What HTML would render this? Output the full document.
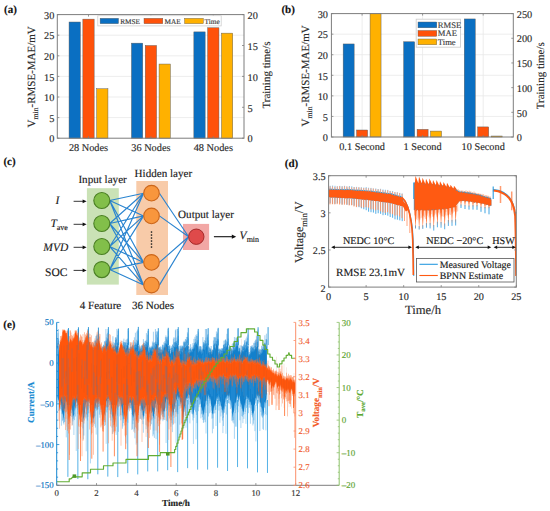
<!DOCTYPE html>
<html><head><meta charset="utf-8"><style>
html,body{margin:0;padding:0;background:#fff;width:550px;height:511px;overflow:hidden}
svg{display:block;font-family:"Liberation Serif",serif;text-rendering:geometricPrecision}
text{stroke-width:0.15px}
</style></head><body>
<svg width="550" height="511" viewBox="0 0 550 511">
<rect width="550" height="511" fill="#fff"/>
<text x="4.1" y="12.6" font-size="11" font-weight="bold" fill="#111" stroke="#111">(a)</text>
<line x1="57.3" y1="117.6" x2="244" y2="117.6" stroke="#e9e9e9" stroke-width="0.8"/>
<line x1="57.3" y1="97" x2="244" y2="97" stroke="#e9e9e9" stroke-width="0.8"/>
<line x1="57.3" y1="76.4" x2="244" y2="76.4" stroke="#e9e9e9" stroke-width="0.8"/>
<line x1="57.3" y1="55.8" x2="244" y2="55.8" stroke="#e9e9e9" stroke-width="0.8"/>
<line x1="57.3" y1="35.2" x2="244" y2="35.2" stroke="#e9e9e9" stroke-width="0.8"/>
<rect x="69.05" y="22.02" width="11.3" height="116.18" fill="#0a6fc2" stroke="#5a5a5a" stroke-width="0.45"/>
<rect x="82.85" y="19.13" width="11.3" height="119.07" fill="#ff520a" stroke="#5a5a5a" stroke-width="0.45"/>
<rect x="96.65" y="88.76" width="11.3" height="49.44" fill="#ffb100" stroke="#5a5a5a" stroke-width="0.45"/>
<rect x="131.45" y="43.15" width="11.3" height="95.05" fill="#0a6fc2" stroke="#5a5a5a" stroke-width="0.45"/>
<rect x="145.25" y="45.5" width="11.3" height="92.7" fill="#ff520a" stroke="#5a5a5a" stroke-width="0.45"/>
<rect x="159.05" y="64.04" width="11.3" height="74.16" fill="#ffb100" stroke="#5a5a5a" stroke-width="0.45"/>
<rect x="193.85" y="31.9" width="11.3" height="106.3" fill="#0a6fc2" stroke="#5a5a5a" stroke-width="0.45"/>
<rect x="207.65" y="27.78" width="11.3" height="110.42" fill="#ff520a" stroke="#5a5a5a" stroke-width="0.45"/>
<rect x="221.45" y="33.14" width="11.3" height="105.06" fill="#ffb100" stroke="#5a5a5a" stroke-width="0.45"/>
<rect x="57.3" y="14.6" width="186.7" height="123.6" fill="none" stroke="#7d7d7d" stroke-width="1"/>
<line x1="57.3" y1="138.2" x2="59.3" y2="138.2" stroke="#7d7d7d" stroke-width="0.8"/>
<text x="54.3" y="142.4" font-size="10.3" text-anchor="end" fill="#2b2b2b" stroke="#2b2b2b">0</text>
<line x1="57.3" y1="117.6" x2="59.3" y2="117.6" stroke="#7d7d7d" stroke-width="0.8"/>
<text x="54.3" y="121.8" font-size="10.3" text-anchor="end" fill="#2b2b2b" stroke="#2b2b2b">5</text>
<line x1="57.3" y1="97" x2="59.3" y2="97" stroke="#7d7d7d" stroke-width="0.8"/>
<text x="54.3" y="101.2" font-size="10.3" text-anchor="end" fill="#2b2b2b" stroke="#2b2b2b">10</text>
<line x1="57.3" y1="76.4" x2="59.3" y2="76.4" stroke="#7d7d7d" stroke-width="0.8"/>
<text x="54.3" y="80.6" font-size="10.3" text-anchor="end" fill="#2b2b2b" stroke="#2b2b2b">15</text>
<line x1="57.3" y1="55.8" x2="59.3" y2="55.8" stroke="#7d7d7d" stroke-width="0.8"/>
<text x="54.3" y="60" font-size="10.3" text-anchor="end" fill="#2b2b2b" stroke="#2b2b2b">20</text>
<line x1="57.3" y1="35.2" x2="59.3" y2="35.2" stroke="#7d7d7d" stroke-width="0.8"/>
<text x="54.3" y="39.4" font-size="10.3" text-anchor="end" fill="#2b2b2b" stroke="#2b2b2b">25</text>
<line x1="57.3" y1="14.6" x2="59.3" y2="14.6" stroke="#7d7d7d" stroke-width="0.8"/>
<text x="54.3" y="18.8" font-size="10.3" text-anchor="end" fill="#2b2b2b" stroke="#2b2b2b">30</text>
<line x1="242" y1="138.2" x2="244" y2="138.2" stroke="#7d7d7d" stroke-width="0.8"/>
<text x="247.6" y="142.4" font-size="10.3" fill="#2b2b2b" stroke="#2b2b2b">0</text>
<line x1="242" y1="107.3" x2="244" y2="107.3" stroke="#7d7d7d" stroke-width="0.8"/>
<text x="247.6" y="111.5" font-size="10.3" fill="#2b2b2b" stroke="#2b2b2b">5</text>
<line x1="242" y1="76.4" x2="244" y2="76.4" stroke="#7d7d7d" stroke-width="0.8"/>
<text x="247.6" y="80.6" font-size="10.3" fill="#2b2b2b" stroke="#2b2b2b">10</text>
<line x1="242" y1="45.5" x2="244" y2="45.5" stroke="#7d7d7d" stroke-width="0.8"/>
<text x="247.6" y="49.7" font-size="10.3" fill="#2b2b2b" stroke="#2b2b2b">15</text>
<line x1="242" y1="14.6" x2="244" y2="14.6" stroke="#7d7d7d" stroke-width="0.8"/>
<text x="247.6" y="18.8" font-size="10.3" fill="#2b2b2b" stroke="#2b2b2b">20</text>
<line x1="88.5" y1="138.2" x2="88.5" y2="136.2" stroke="#7d7d7d" stroke-width="0.8"/>
<line x1="88.5" y1="14.6" x2="88.5" y2="16.6" stroke="#7d7d7d" stroke-width="0.8"/>
<text x="88.5" y="150.8" font-size="10.3" text-anchor="middle" fill="#2b2b2b" stroke="#2b2b2b">28 Nodes</text>
<line x1="150.9" y1="138.2" x2="150.9" y2="136.2" stroke="#7d7d7d" stroke-width="0.8"/>
<line x1="150.9" y1="14.6" x2="150.9" y2="16.6" stroke="#7d7d7d" stroke-width="0.8"/>
<text x="150.9" y="150.8" font-size="10.3" text-anchor="middle" fill="#2b2b2b" stroke="#2b2b2b">36 Nodes</text>
<line x1="213.3" y1="138.2" x2="213.3" y2="136.2" stroke="#7d7d7d" stroke-width="0.8"/>
<line x1="213.3" y1="14.6" x2="213.3" y2="16.6" stroke="#7d7d7d" stroke-width="0.8"/>
<text x="213.3" y="150.8" font-size="10.3" text-anchor="middle" fill="#2b2b2b" stroke="#2b2b2b">48 Nodes</text>
<text transform="translate(34.8 76.8) rotate(-90)" font-size="11" text-anchor="middle" fill="#2b2b2b" stroke="#2b2b2b">V<tspan font-size="7.7" dy="3">min</tspan><tspan dy="-3">-RMSE-MAE/mV</tspan></text>
<text transform="translate(270.4 75) rotate(-90)" font-size="11" text-anchor="middle" fill="#2b2b2b" stroke="#2b2b2b">Training time/s</text>
<rect x="97.8" y="15.7" width="123.4" height="10.2" fill="#fff" stroke="#cfcfcf" stroke-width="0.8"/>
<rect x="100.1" y="18.3" width="18.4" height="5.4" fill="#0a6fc2" stroke="#5a5a5a" stroke-width="0.4"/>
<text x="120.2" y="23.5" font-size="7.3" fill="#3a3a3a" stroke="#3a3a3a">RMSE</text>
<rect x="144" y="18.3" width="18.8" height="5.4" fill="#ff520a" stroke="#5a5a5a" stroke-width="0.4"/>
<text x="164.5" y="23.5" font-size="7.3" fill="#3a3a3a" stroke="#3a3a3a">MAE</text>
<rect x="184.5" y="18.3" width="18.9" height="5.4" fill="#ffb100" stroke="#5a5a5a" stroke-width="0.4"/>
<text x="204.6" y="23.5" font-size="7.3" fill="#3a3a3a" stroke="#3a3a3a">Time</text>
<text x="281.4" y="13.2" font-size="11" font-weight="bold" fill="#111" stroke="#111">(b)</text>
<line x1="331.4" y1="116.43" x2="513.3" y2="116.43" stroke="#e9e9e9" stroke-width="0.8"/>
<line x1="331.4" y1="95.87" x2="513.3" y2="95.87" stroke="#e9e9e9" stroke-width="0.8"/>
<line x1="331.4" y1="75.3" x2="513.3" y2="75.3" stroke="#e9e9e9" stroke-width="0.8"/>
<line x1="331.4" y1="54.73" x2="513.3" y2="54.73" stroke="#e9e9e9" stroke-width="0.8"/>
<line x1="331.4" y1="34.17" x2="513.3" y2="34.17" stroke="#e9e9e9" stroke-width="0.8"/>
<line x1="362.1" y1="13.6" x2="362.1" y2="137" stroke="#e9e9e9" stroke-width="0.8"/>
<line x1="422.6" y1="13.6" x2="422.6" y2="137" stroke="#e9e9e9" stroke-width="0.8"/>
<line x1="483.2" y1="13.6" x2="483.2" y2="137" stroke="#e9e9e9" stroke-width="0.8"/>
<rect x="343.15" y="43.96" width="11" height="93.04" fill="#0a6fc2" stroke="#5a5a5a" stroke-width="0.45"/>
<rect x="356.6" y="130.01" width="11" height="6.99" fill="#ff520a" stroke="#5a5a5a" stroke-width="0.45"/>
<rect x="370.05" y="13.6" width="11" height="123.4" fill="#ffb100" stroke="#5a5a5a" stroke-width="0.45"/>
<rect x="403.65" y="41.78" width="11" height="95.22" fill="#0a6fc2" stroke="#5a5a5a" stroke-width="0.45"/>
<rect x="417.1" y="129.39" width="11" height="7.61" fill="#ff520a" stroke="#5a5a5a" stroke-width="0.45"/>
<rect x="430.55" y="131.08" width="11" height="5.92" fill="#ffb100" stroke="#5a5a5a" stroke-width="0.45"/>
<rect x="464.25" y="18.95" width="11" height="118.05" fill="#0a6fc2" stroke="#5a5a5a" stroke-width="0.45"/>
<rect x="477.7" y="126.92" width="11" height="10.08" fill="#ff520a" stroke="#5a5a5a" stroke-width="0.45"/>
<rect x="491.15" y="136.01" width="11" height="0.99" fill="#ffb100" stroke="#5a5a5a" stroke-width="0.45"/>
<rect x="331.4" y="13.6" width="181.9" height="123.4" fill="none" stroke="#7d7d7d" stroke-width="1"/>
<line x1="331.4" y1="137" x2="333.4" y2="137" stroke="#7d7d7d" stroke-width="0.8"/>
<text x="328" y="141.2" font-size="10.3" text-anchor="end" fill="#2b2b2b" stroke="#2b2b2b">0</text>
<line x1="331.4" y1="116.43" x2="333.4" y2="116.43" stroke="#7d7d7d" stroke-width="0.8"/>
<text x="328" y="120.63" font-size="10.3" text-anchor="end" fill="#2b2b2b" stroke="#2b2b2b">5</text>
<line x1="331.4" y1="95.87" x2="333.4" y2="95.87" stroke="#7d7d7d" stroke-width="0.8"/>
<text x="328" y="100.07" font-size="10.3" text-anchor="end" fill="#2b2b2b" stroke="#2b2b2b">10</text>
<line x1="331.4" y1="75.3" x2="333.4" y2="75.3" stroke="#7d7d7d" stroke-width="0.8"/>
<text x="328" y="79.5" font-size="10.3" text-anchor="end" fill="#2b2b2b" stroke="#2b2b2b">15</text>
<line x1="331.4" y1="54.73" x2="333.4" y2="54.73" stroke="#7d7d7d" stroke-width="0.8"/>
<text x="328" y="58.93" font-size="10.3" text-anchor="end" fill="#2b2b2b" stroke="#2b2b2b">20</text>
<line x1="331.4" y1="34.17" x2="333.4" y2="34.17" stroke="#7d7d7d" stroke-width="0.8"/>
<text x="328" y="38.37" font-size="10.3" text-anchor="end" fill="#2b2b2b" stroke="#2b2b2b">25</text>
<line x1="331.4" y1="13.6" x2="333.4" y2="13.6" stroke="#7d7d7d" stroke-width="0.8"/>
<text x="328" y="17.8" font-size="10.3" text-anchor="end" fill="#2b2b2b" stroke="#2b2b2b">30</text>
<line x1="511.3" y1="137" x2="513.3" y2="137" stroke="#7d7d7d" stroke-width="0.8"/>
<text x="516.8" y="141.2" font-size="10.3" fill="#2b2b2b" stroke="#2b2b2b">0</text>
<line x1="511.3" y1="112.32" x2="513.3" y2="112.32" stroke="#7d7d7d" stroke-width="0.8"/>
<text x="516.8" y="116.52" font-size="10.3" fill="#2b2b2b" stroke="#2b2b2b">50</text>
<line x1="511.3" y1="87.64" x2="513.3" y2="87.64" stroke="#7d7d7d" stroke-width="0.8"/>
<text x="516.8" y="91.84" font-size="10.3" fill="#2b2b2b" stroke="#2b2b2b">100</text>
<line x1="511.3" y1="62.96" x2="513.3" y2="62.96" stroke="#7d7d7d" stroke-width="0.8"/>
<text x="516.8" y="67.16" font-size="10.3" fill="#2b2b2b" stroke="#2b2b2b">150</text>
<line x1="511.3" y1="38.28" x2="513.3" y2="38.28" stroke="#7d7d7d" stroke-width="0.8"/>
<text x="516.8" y="42.48" font-size="10.3" fill="#2b2b2b" stroke="#2b2b2b">200</text>
<line x1="511.3" y1="13.6" x2="513.3" y2="13.6" stroke="#7d7d7d" stroke-width="0.8"/>
<text x="516.8" y="17.8" font-size="10.3" fill="#2b2b2b" stroke="#2b2b2b">250</text>
<line x1="362.1" y1="137" x2="362.1" y2="135" stroke="#7d7d7d" stroke-width="0.8"/>
<line x1="362.1" y1="13.6" x2="362.1" y2="15.6" stroke="#7d7d7d" stroke-width="0.8"/>
<text x="362.1" y="149.9" font-size="10.3" text-anchor="middle" fill="#2b2b2b" stroke="#2b2b2b">0.1 Second</text>
<line x1="422.6" y1="137" x2="422.6" y2="135" stroke="#7d7d7d" stroke-width="0.8"/>
<line x1="422.6" y1="13.6" x2="422.6" y2="15.6" stroke="#7d7d7d" stroke-width="0.8"/>
<text x="422.6" y="149.9" font-size="10.3" text-anchor="middle" fill="#2b2b2b" stroke="#2b2b2b">1 Second</text>
<line x1="483.2" y1="137" x2="483.2" y2="135" stroke="#7d7d7d" stroke-width="0.8"/>
<line x1="483.2" y1="13.6" x2="483.2" y2="15.6" stroke="#7d7d7d" stroke-width="0.8"/>
<text x="483.2" y="149.9" font-size="10.3" text-anchor="middle" fill="#2b2b2b" stroke="#2b2b2b">10 Second</text>
<text transform="translate(309.2 75.8) rotate(-90)" font-size="11" text-anchor="middle" fill="#2b2b2b" stroke="#2b2b2b">V<tspan font-size="7.7" dy="3">min</tspan><tspan dy="-3">-RMSE-MAE/mV</tspan></text>
<text transform="translate(544 75.8) rotate(-90)" font-size="11" text-anchor="middle" fill="#2b2b2b" stroke="#2b2b2b">Training time/s</text>
<rect x="416.2" y="19.2" width="44.3" height="28" fill="#fff" stroke="#cfcfcf" stroke-width="0.9"/>
<rect x="418" y="22" width="18.8" height="5.8" fill="#0a6fc2" stroke="#5a5a5a" stroke-width="0.4"/>
<text x="437.8" y="27.6" font-size="8.6" fill="#3a3a3a" stroke="#3a3a3a">RMSE</text>
<rect x="418" y="30.5" width="18.8" height="5.8" fill="#ff520a" stroke="#5a5a5a" stroke-width="0.4"/>
<text x="437.8" y="36.1" font-size="8.6" fill="#3a3a3a" stroke="#3a3a3a">MAE</text>
<rect x="418" y="39" width="18.8" height="5.8" fill="#ffb100" stroke="#5a5a5a" stroke-width="0.4"/>
<text x="437.8" y="44.6" font-size="8.6" fill="#3a3a3a" stroke="#3a3a3a">Time</text>
<text x="3.4" y="164.5" font-size="11" font-weight="bold" fill="#111" stroke="#111">(c)</text>
<rect x="86.9" y="188.2" width="31.9" height="96.4" fill="#cae2b6"/>
<rect x="136.3" y="181" width="31.7" height="114" fill="#f8cba9"/>
<rect x="183" y="223.9" width="26.1" height="26.1" fill="#f2a7a5"/>
<path d="M109.7 200.5L143.6 193.2M109.7 200.5L143.6 215.9M109.7 200.5L143.6 262.4M109.7 200.5L143.6 285.1M109.7 223.5L143.6 193.2M109.7 223.5L143.6 215.9M109.7 223.5L143.6 262.4M109.7 223.5L143.6 285.1M109.7 246.5L143.6 193.2M109.7 246.5L143.6 215.9M109.7 246.5L143.6 262.4M109.7 246.5L143.6 285.1M109.7 269.6L143.6 193.2M109.7 269.6L143.6 215.9M109.7 269.6L143.6 262.4M109.7 269.6L143.6 285.1M159.4 193.2L188.6 236.7M159.4 215.9L188.6 236.7M159.4 262.4L188.6 236.7M159.4 285.1L188.6 236.7" stroke="#2a84d0" stroke-width="1.15" fill="none"/>
<circle cx="101.8" cy="200.5" r="8" fill="#82bf4a" stroke="#4a7f24" stroke-width="1.1"/>
<circle cx="101.8" cy="223.5" r="8" fill="#82bf4a" stroke="#4a7f24" stroke-width="1.1"/>
<circle cx="101.8" cy="246.5" r="8" fill="#82bf4a" stroke="#4a7f24" stroke-width="1.1"/>
<circle cx="101.8" cy="269.6" r="8" fill="#82bf4a" stroke="#4a7f24" stroke-width="1.1"/>
<circle cx="151.5" cy="193.2" r="7.8" fill="#f8963d" stroke="#cc661a" stroke-width="1.1"/>
<circle cx="151.5" cy="215.9" r="7.8" fill="#f8963d" stroke="#cc661a" stroke-width="1.1"/>
<circle cx="151.5" cy="262.4" r="7.8" fill="#f8963d" stroke="#cc661a" stroke-width="1.1"/>
<circle cx="151.5" cy="285.1" r="7.8" fill="#f8963d" stroke="#cc661a" stroke-width="1.1"/>
<circle cx="196.3" cy="236.7" r="7.7" fill="#df4a4a" stroke="#9c2323" stroke-width="0.9"/>
<rect x="150.8" y="231.3" width="1.4" height="1.5" fill="#222"/>
<rect x="150.8" y="234.3" width="1.4" height="1.5" fill="#222"/>
<rect x="150.8" y="237.3" width="1.4" height="1.5" fill="#222"/>
<rect x="150.8" y="240.3" width="1.4" height="1.5" fill="#222"/>
<rect x="150.8" y="243.3" width="1.4" height="1.5" fill="#222"/>
<rect x="150.8" y="246.3" width="1.4" height="1.5" fill="#222"/>
<line x1="73.6" y1="201.3" x2="83.6" y2="201.3" stroke="#222" stroke-width="0.9"/>
<path d="M86.6 201.3L82.6 199.4L82.6 203.2Z" fill="#111"/>
<line x1="73.6" y1="224.3" x2="83.6" y2="224.3" stroke="#222" stroke-width="0.9"/>
<path d="M86.6 224.3L82.6 222.4L82.6 226.2Z" fill="#111"/>
<line x1="73.6" y1="247.3" x2="83.6" y2="247.3" stroke="#222" stroke-width="0.9"/>
<path d="M86.6 247.3L82.6 245.4L82.6 249.2Z" fill="#111"/>
<line x1="73.6" y1="270.4" x2="83.6" y2="270.4" stroke="#222" stroke-width="0.9"/>
<path d="M86.6 270.4L82.6 268.5L82.6 272.3Z" fill="#111"/>
<line x1="213.9" y1="236.7" x2="232.5" y2="236.7" stroke="#111" stroke-width="1.1"/>
<path d="M236.2 236.7L231.8 234.6L231.8 238.8Z" fill="#111"/>
<text x="102.6" y="183" font-size="11.1" text-anchor="middle" fill="#1a1a1a" stroke="#1a1a1a">Input layer</text>
<text x="163.4" y="176.6" font-size="11.1" text-anchor="middle" fill="#1a1a1a" stroke="#1a1a1a">Hidden layer</text>
<text x="206" y="218.3" font-size="11.1" text-anchor="middle" fill="#1a1a1a" stroke="#1a1a1a">Output layer</text>
<text x="100.5" y="309" font-size="11.1" text-anchor="middle" fill="#1a1a1a" stroke="#1a1a1a">4 Feature</text>
<text x="153" y="309" font-size="11.1" text-anchor="middle" fill="#1a1a1a" stroke="#1a1a1a">36 Nodes</text>
<text x="55.6" y="204" font-size="11.5" font-style="italic" fill="#1a1a1a" stroke="#1a1a1a">I</text>
<text x="50.4" y="227.0" font-size="11.5" fill="#1a1a1a" stroke="#1a1a1a"><tspan font-style="italic">T</tspan><tspan font-size="8" dy="2.6">ave</tspan></text>
<text x="43.3" y="251" font-size="11.5" font-style="italic" fill="#1a1a1a" stroke="#1a1a1a">MVD</text>
<text x="45" y="275.8" font-size="11.5" fill="#1a1a1a" stroke="#1a1a1a">SOC</text>
<text x="239.6" y="239.3" font-size="11.5" fill="#1a1a1a" stroke="#1a1a1a"><tspan font-style="italic">V</tspan><tspan font-size="8" dy="2.6">min</tspan></text>
<text x="284.8" y="167.4" font-size="11" font-weight="bold" fill="#111" stroke="#111">(d)</text>
<clipPath id="cd"><rect x="328.6" y="175.7" width="187.7" height="111.4"/></clipPath>
<g clip-path="url(#cd)">
<path d="M330.2 197.45V203.27M332.6 197.56V203.88M335 197.68V203.86M337.4 197.79V203.15M339.8 197.9V203.44M342.2 198.02V204.53M344.6 198.13V203.31M347 198.25V204.79M349.4 198.36V204.92M351.8 198.54V205.01M354.2 198.76V205.58M356.6 198.98V206.39M359 199.19V207.19M361.4 199.41V208.33M363.8 199.62V209.27M366.2 199.84V210.19M368.6 200.06V211.73M371 200.31V212.19M373.4 200.65V212.58M375.8 200.98V213.82M378.2 201.32V213.24M380.6 201.66V213.82M383 201.99V215.2M385.4 202.33V214.95M387.8 202.66V215.6M390.2 203V217.02M392.6 203.65V217.78M395 204.29V219.33M397.4 204.94V219.7M399.8 205.58V220.35M402.2 206.23V221.15" fill="none" stroke="#2a9be0" stroke-width="0.9" stroke-opacity="0.9"/>
<path d="M330.2 189.62V185.77M332.6 189.66V185.58M335 189.71V185.8M337.4 189.76V186.35M339.8 189.8V185.9M342.2 189.85V186.12M344.6 189.89V185.8M347 189.94V186.67M349.4 189.98V186.04M351.8 190.11V186.28M354.2 190.28V187.06M356.6 190.45V186.86M359 190.62V187.36M361.4 190.78V187.32M363.8 190.95V187.59M366.2 191.12V187.11M368.6 191.29V187.73M371 191.5V187.92M373.4 191.82V188.62M375.8 192.13V188.45M378.2 192.44V189.02M380.6 192.75V188.82M383 193.06V189.48M385.4 193.38V189.75M387.8 193.69V189.91M390.2 194V190.92M392.6 194.65V191.03M395 195.29V192.19M397.4 195.94V192.35M399.8 196.58V192.92M402.2 197.23V193.51" fill="none" stroke="#2a9be0" stroke-width="0.8" stroke-opacity="0.75"/>
<path d="M329 188.81L329.5 188.5L330 188.68L330.5 188.57L331 188.68L331.5 188.51L332 189.04L332.5 188.6L333 188.88L333.5 188.67L334 189.02L334.5 188.9L335 188.59L335.5 189.03L336 189.1L336.5 189.09L337 188.89L337.5 188.65L338 188.69L338.5 189.14L339 188.92L339.5 188.71L340 189.14L340.5 189L341 188.97L341.5 188.86L342 188.89L342.5 188.8L343 188.69L343.5 189.2L344 188.97L344.5 189.02L345 188.9L345.5 189.17L346 188.74L346.5 188.96L347 188.76L347.5 188.83L348 189.34L348.5 189.17L349 189.04L349.5 189.1L350 189.32L350.5 189.04L351 189.22L351.5 189.32L352 189.15L352.5 189.29L353 189.47L353.5 189.59L354 189.17L354.5 189.68L355 189.15L355.5 189.64L356 189.71L356.5 189.34L357 189.54L357.5 189.81L358 189.37L358.5 189.77L359 189.91L359.5 189.77L360 189.94L360.5 189.67L361 189.69L361.5 189.82L362 189.75L362.5 189.88L363 190.28L363.5 190.09L364 189.98L364.5 189.98L365 190.42L365.5 190.15L366 190.51L366.5 190.26L367 190.3L367.5 190.56L368 190.51L368.5 190.44L369 190.39L369.5 190.69L370 190.45L370.5 190.82L371 190.37L371.5 190.65L372 190.77L372.5 191.1L373 190.74L373.5 191.14L374 191.13L374.5 191.22L375 191.23L375.5 191.5L376 191.18L376.5 191.28L377 191.23L377.5 191.21L378 191.37L378.5 191.85L379 191.87L379.5 191.5L380 191.86L380.5 191.85L381 191.99L381.5 192.09L382 191.94L382.5 192.4L383 192.17L383.5 192.33L384 192.4L384.5 192.2L385 192.19L385.5 192.46L386 192.74L386.5 192.83L387 192.85L387.5 192.54L388 193.09L388.5 193.09L389 193.2L389.5 193.05L390 193.35L390.5 192.96L391 193.09L391.5 193.22L392 193.49L392.5 193.62L393 193.72L393.5 194.08L394 193.9L394.5 194.37L395 194.25L395.5 194.69L396 194.43L396.5 194.74L397 195.25L397.5 195.14L398 195.44L398.5 195.48L399 195.59L399.5 195.47L400 195.84L400.5 195.65L401 196.24L401.5 196.47L402 196.54L402.5 196.2L402.5 206.36L402 206.45L401.5 205.9L401 205.74L400.5 205.83L400 205.41L399.5 205.33L399 205.26L398.5 205.22L398 205L397.5 205.27L397 205.12L396.5 205.05L396 204.35L395.5 204.45L395 204.48L394.5 204.1L394 203.97L393.5 203.66L393 203.79L392.5 203.41L392 203.7L391.5 203.23L391 203.52L390.5 202.95L390 203.15L389.5 202.9L389 202.9L388.5 202.6L388 202.49L387.5 202.94L387 202.34L386.5 202.28L386 202.69L385.5 202.57L385 202.43L384.5 202.02L384 202.46L383.5 202.25L383 201.8L382.5 201.88L382 202.13L381.5 202.01L381 201.67L380.5 201.8L380 201.63L379.5 201.46L379 201.49L378.5 201.6L378 201.04L377.5 201.2L377 201.11L376.5 201.08L376 201.17L375.5 201.12L375 201.06L374.5 200.64L374 200.84L373.5 200.63L373 200.79L372.5 200.76L372 200.74L371.5 200.71L371 200.47L370.5 200.36L370 200.38L369.5 199.97L369 199.89L368.5 200.3L368 200.17L367.5 200L367 199.79L366.5 199.7L366 199.99L365.5 199.81L365 199.49L364.5 199.63L364 199.76L363.5 199.81L363 199.74L362.5 199.66L362 199.24L361.5 199.56L361 199.32L360.5 199.58L360 199.26L359.5 199.07L359 199.28L358.5 199.36L358 199L357.5 198.94L357 199.27L356.5 198.73L356 198.72L355.5 198.67L355 198.63L354.5 198.96L354 198.51L353.5 198.59L353 198.72L352.5 198.78L352 198.33L351.5 198.51L351 198.39L350.5 198.29L350 198.23L349.5 198.4L349 198.28L348.5 198.25L348 198.5L347.5 198.38L347 198.04L346.5 198.16L346 197.97L345.5 198.28L345 198.14L344.5 197.99L344 198.04L343.5 198.36L343 198.1L342.5 197.87L342 198.11L341.5 197.71L341 197.77L340.5 198.18L340 198.14L339.5 198.03L339 197.77L338.5 198.03L338 198.02L337.5 197.88L337 197.88L336.5 197.51L336 197.8L335.5 197.79L335 197.73L334.5 197.48L334 197.87L333.5 197.77L333 197.37L332.5 197.74L332 197.76L331.5 197.41L331 197.67L330.5 197.55L330 197.22L329.5 197.31L329 197.3Z" fill="#2a9be0"/>
<path d="M329 189.35L329.5 189.75L330 189.43L330.5 189.65L331 189.46L331.5 189.66L332 189.76L332.5 189.7L333 189.59L333.5 189.92L334 189.99L334.5 189.45L335 189.42L335.5 189.41L336 190.12L336.5 190.1L337 189.54L337.5 190.14L338 189.54L338.5 189.79L339 189.79L339.5 190.13L340 189.44L340.5 189.67L341 189.91L341.5 189.49L342 189.64L342.5 189.83L343 190.17L343.5 190.08L344 190.15L344.5 190.1L345 190.07L345.5 190.19L346 190.07L346.5 190.12L347 189.78L347.5 189.69L348 190.17L348.5 189.7L349 190.32L349.5 190.07L350 189.86L350.5 190.38L351 189.79L351.5 190.12L352 189.81L352.5 190.55L353 190.27L353.5 190.49L354 190.11L354.5 190.56L355 190.51L355.5 190.5L356 190.78L356.5 190.4L357 190.42L357.5 190.68L358 190.83L358.5 190.46L359 190.77L359.5 190.43L360 190.74L360.5 190.95L361 190.42L361.5 190.99L362 190.45L362.5 191.24L363 190.88L363.5 190.87L364 191.16L364.5 191.03L365 191.23L365.5 190.75L366 191.17L366.5 191.2L367 191.54L367.5 190.86L368 191.22L368.5 191.4L369 191.37L369.5 191.02L370 191.47L370.5 191.24L371 191.29L371.5 191.9L372 191.42L372.5 191.69L373 191.99L373.5 192.02L374 191.96L374.5 192.23L375 192.02L375.5 192.21L376 192.44L376.5 192.39L377 192.42L377.5 192.3L378 192.49L378.5 192.42L379 192.77L379.5 192.54L380 192.67L380.5 192.97L381 192.83L381.5 192.77L382 193.22L382.5 192.93L383 193.37L383.5 193.38L384 193.18L384.5 193.46L385 192.98L385.5 193.33L386 193.77L386.5 193.61L387 193.66L387.5 193.81L388 193.88L388.5 193.87L389 193.81L389.5 193.68L390 193.83L390.5 193.97L391 194.21L391.5 194.8L392 194.42L392.5 194.63L393 194.7L393.5 195.01L394 195.44L394.5 195.52L395 195.25L395.5 195.29L396 195.92L396.5 195.75L397 196.03L397.5 195.68L398 196.45L398.5 196.14L399 196.42L399.5 196.32L400 196.63L400.5 197.09L401 197.22L401.5 197.08L402 197.45L402.5 197.33L403 197.4L403 206.79L402.5 206.34L402 206.05L401.5 206.28L401 205.73L400.5 206L400 206.06L399.5 205.18L399 205.33L398.5 205.45L398 205.33L397.5 204.92L397 205.08L396.5 204.86L396 204.82L395.5 204.32L395 204.64L394.5 204.18L394 204.18L393.5 203.79L393 203.89L392.5 203.88L392 203.36L391.5 203.07L391 203.55L390.5 203.17L390 202.63L389.5 202.94L389 202.55L388.5 203.04L388 202.42L387.5 202.81L387 202.39L386.5 202.86L386 202.25L385.5 202.14L385 202.45L384.5 202.47L384 201.87L383.5 201.89L383 202.25L382.5 201.55L382 201.8L381.5 202.09L381 201.88L380.5 201.99L380 201.42L379.5 201.87L379 201.42L378.5 201.23L378 201.07L377.5 200.96L377 200.84L376.5 200.98L376 201.24L375.5 201.25L375 200.84L374.5 200.99L374 200.94L373.5 200.3L373 200.63L372.5 200.42L372 200.57L371.5 200.77L371 200.4L370.5 200.41L370 200.33L369.5 200.24L369 200.5L368.5 200.4L368 200.28L367.5 199.6L367 199.78L366.5 199.58L366 200.15L365.5 200.16L365 199.52L364.5 199.92L364 199.74L363.5 199.75L363 199.21L362.5 199.66L362 199.79L361.5 199.77L361 199.12L360.5 199.6L360 199.23L359.5 199.18L359 199.3L358.5 198.91L358 199.35L357.5 198.89L357 198.76L356.5 198.95L356 198.55L355.5 198.87L355 198.58L354.5 198.55L354 198.38L353.5 199.08L353 198.5L352.5 198.36L352 198.29L351.5 198.24L351 198.6L350.5 198.4L350 198.11L349.5 198.37L349 198.3L348.5 198.13L348 198.18L347.5 198.48L347 198.47L346.5 198.33L346 198.33L345.5 198.52L345 198.15L344.5 198.35L344 197.97L343.5 197.8L343 197.82L342.5 198.21L342 198.24L341.5 197.93L341 197.63L340.5 197.75L340 197.77L339.5 197.73L339 198.25L338.5 197.61L338 197.93L337.5 197.82L337 197.76L336.5 197.56L336 197.84L335.5 197.61L335 197.8L334.5 197.46L334 197.78L333.5 197.26L333 197.55L332.5 197.82L332 197.73L331.5 197.16L331 197.71L330.5 197.64L330 197.3L329.5 197.18L329 197.44Z" fill="#ff5a12"/>
<path d="M330 197.45V204.37M332.4 197.56V204.24M334.8 197.68V204.39M337.2 197.79V204.15M339.6 197.9V204.51M342 198.02V204.71M344.4 198.13V204.68M346.8 198.25V204.63M349.2 198.36V205.4M351.6 198.54V205.28M354 198.76V206.48M356.4 198.98V207.14M358.8 199.19V206.46M361.2 199.41V207.3M363.6 199.62V207.55M366 199.84V207.22M368.4 200.06V207.66M370.8 200.31V209.32M373.2 200.65V209.26M375.6 200.98V210.39M378 201.32V209.81M380.4 201.66V211.25M382.8 201.99V212.28M385.2 202.33V212.89M387.6 202.66V212.11M390 203V213.53M392.4 203.65V214.12M394.8 204.29V215.58M397.2 204.94V215.31M399.6 205.58V216.45M402 206.23V218.15" fill="none" stroke="#ff9466" stroke-width="1"/>
<path d="M330 189.62V186.39M332.4 189.66V186.42M334.8 189.71V186.98M337.2 189.76V186.38M339.6 189.8V186.14M342 189.85V186.54M344.4 189.89V186.35M346.8 189.94V186.32M349.2 189.98V186.85M351.6 190.11V187.37M354 190.28V187.16M356.4 190.45V187.4M358.8 190.62V187.24M361.2 190.78V187.66M363.6 190.95V188M366 191.12V188.01M368.4 191.29V188.39M370.8 191.5V188.36M373.2 191.82V188.35M375.6 192.13V189.07M378 192.44V189.31M380.4 192.75V189.32M382.8 193.06V190.11M385.2 193.38V190.64M387.6 193.69V190.3M390 194V191.04M392.4 194.65V191.79M394.8 195.29V192.01M397.2 195.94V192.43M399.6 196.58V193.09M402 197.23V193.81" fill="none" stroke="#ffa27a" stroke-width="0.9"/>
<polyline points="402.4,198.3 405.4,201.8 407.9,207.3 409.9,214.3 411.4,221.8 412.4,229.8 413.1,240.8 413.5,258.8 413.7,275.8" fill="none" stroke="#2a9be0" stroke-width="1.3" stroke-linejoin="round"/>
<polyline points="402,197.5 405,201 407.5,206.5 409.5,213.5 411,221 412,229 412.7,240 413.1,258 413.3,275" fill="none" stroke="#ff5a12" stroke-width="1.6" stroke-linejoin="round"/>
<polyline points="399,200 402,202.5 405,206 407.5,210.5" fill="none" stroke="#ff5a12" stroke-width="4" stroke-linejoin="round"/>
<line x1="404.5" y1="205" x2="404.5" y2="221" stroke="#ff5a12" stroke-width="0.9" stroke-opacity="0.6"/>
<line x1="407" y1="209" x2="407" y2="226" stroke="#ff5a12" stroke-width="0.9" stroke-opacity="0.6"/>
<line x1="409.8" y1="214" x2="409.8" y2="233" stroke="#ff5a12" stroke-width="0.9" stroke-opacity="0.6"/>
<line x1="413.9" y1="182.5" x2="413.9" y2="199" stroke="#2a9be0" stroke-width="1.3"/>
<path d="M413.8 182.75L414.3 182.66L414.8 182.33L415.3 182.92L415.8 183.03L416.3 182.4L416.8 182.54L417.3 182.5L417.8 183.07L418.3 183.14L418.8 182.48L419.3 182.73L419.8 182.64L420.3 182.91L420.8 183.32L421.3 182.69L421.8 182.82L422.3 183.12L422.8 183.2L423.3 183.43L423.8 183.23L424.3 183.04L424.8 183.26L425.3 183.82L425.8 183.68L426.3 183.22L426.8 183.83L427.3 183.48L427.8 183.91L428.3 183.34L428.8 184.08L429.3 183.56L429.8 183.84L430.3 184.07L430.8 184.01L431.3 183.81L431.8 183.85L432.3 184.03L432.8 183.92L433.3 184.11L433.8 184.11L434.3 184.45L434.8 184.43L435.3 184.68L435.8 184.5L436.3 184.37L436.8 184.67L437.3 185.08L437.8 184.74L438.3 184.93L438.8 185.28L439.3 185.07L439.8 185.52L440.3 185.61L440.8 185.19L441.3 185.6L441.8 185.28L442.3 185.25L442.8 185.56L443.3 185.76L443.8 186.09L444.3 185.52L444.8 186.04L445.3 185.96L445.8 185.82L446.3 186.63L446.8 186.54L447.3 186.22L447.8 186.98L448.3 186.47L448.8 186.6L449.3 186.93L449.8 187.55L450.3 186.96L450.8 187.8L451.3 187.69L451.8 187.39L452.3 187.93L452.8 187.97L453.3 188.19L453.8 188.47L454.3 188.55L454.8 188.94L455.3 188.51L455.8 189.35L456.3 189.34L456.8 189.95L457.3 190.35L457.8 190.74L458.3 190.48L458.8 190.94L459.3 191.5L459.8 191.57L460.3 191.18L460.8 191.7L461.3 191.34L461.8 191.38L462.3 191.76L462.8 191.6L463.3 191.64L463.8 191.66L464.3 191.77L464.8 191.6L465.3 191.61L465.8 192.23L466.3 192.15L466.8 192.3L467.3 192.47L467.8 192.08L468.3 192.16L468.8 192.26L469.3 192.35L469.8 192.78L470.3 192.56L470.8 192.62L471.3 192.97L471.8 192.71L472.3 192.75L472.8 193.32L473.3 193.47L473.8 193.2L474.3 193.57L474.8 193.19L475.3 193.58L475.8 193.82L476.3 193.66L476.8 193.84L477.3 194.15L477.8 194.23L478.3 193.98L478.8 194.53L479.3 194.12L479.8 194.94L480.3 194.46L480.8 194.67L481.3 194.79L481.8 195.59L482.3 195.19L482.8 195.61L483.3 196.08L483.8 196.22L484.3 195.65L484.8 196.2L485.3 196.43L485.8 196.68L486.3 196.55L486.8 196.71L487.3 196.62L487.8 196.81L488.3 197.38L488.8 197.17L489.3 197.44L489.8 197.7L490.3 197.66L490.8 197.79L491.3 198.68L491.3 205.86L490.8 206.13L490.3 205.53L489.8 205.73L489.3 205.22L488.8 205.62L488.3 205.14L487.8 204.95L487.3 204.74L486.8 204.91L486.3 204.41L485.8 204.46L485.3 204.32L484.8 204.32L484.3 203.87L483.8 203.7L483.3 203.67L482.8 203.34L482.3 203.31L481.8 203.81L481.3 203.58L480.8 202.91L480.3 202.78L479.8 202.8L479.3 202.91L478.8 202.58L478.3 202.76L477.8 202.77L477.3 202.9L476.8 202.82L476.3 202.21L475.8 202.75L475.3 202.04L474.8 202.47L474.3 202.46L473.8 202.45L473.3 202.36L472.8 202.06L472.3 201.52L471.8 201.87L471.3 201.5L470.8 201.28L470.3 201.43L469.8 201.38L469.3 201.46L468.8 201.63L468.3 200.97L467.8 201.62L467.3 201.31L466.8 201.05L466.3 201.31L465.8 200.91L465.3 201.27L464.8 200.81L464.3 201.22L463.8 200.85L463.3 200.82L462.8 201.15L462.3 201.06L461.8 200.42L461.3 200.76L460.8 200.42L460.3 200.53L459.8 200.66L459.3 201.41L458.8 201.61L458.3 202.43L457.8 202.91L457.3 204.06L456.8 204.54L456.3 204.91L455.8 205.96L455.3 206.98L454.8 207.02L454.3 206.9L453.8 207.4L453.3 206.95L452.8 207.69L452.3 207.31L451.8 207.7L451.3 207.92L450.8 207.94L450.3 208.21L449.8 207.97L449.3 207.86L448.8 207.94L448.3 208.7L447.8 208.8L447.3 208.49L446.8 208.64L446.3 208.75L445.8 208.48L445.3 209L444.8 209.41L444.3 208.69L443.8 208.77L443.3 209.14L442.8 209.53L442.3 209.04L441.8 209.11L441.3 209.61L440.8 209.63L440.3 209.38L439.8 209.59L439.3 209.22L438.8 209.45L438.3 209.14L437.8 209.58L437.3 209.47L436.8 209.58L436.3 209.99L435.8 209.53L435.3 210.16L434.8 210.1L434.3 209.48L433.8 209.64L433.3 209.9L432.8 210.21L432.3 210.27L431.8 210.21L431.3 209.8L430.8 209.79L430.3 210.49L429.8 209.81L429.3 210.21L428.8 210.3L428.3 210.43L427.8 210.53L427.3 210.23L426.8 209.97L426.3 209.83L425.8 210.24L425.3 210.18L424.8 210.28L424.3 210.37L423.8 209.79L423.3 209.98L422.8 209.98L422.3 210.43L421.8 209.82L421.3 209.77L420.8 210.19L420.3 209.78L419.8 209.69L419.3 209.84L418.8 209.68L418.3 209.91L417.8 209.72L417.3 210.15L416.8 210.35L416.3 210.4L415.8 209.82L415.3 209.62L414.8 210.18L414.3 209.77L413.8 209.95Z" fill="#2a9be0"/>
<path d="M415.5 225.37V228.47M419.15 226.15V229.47M422.8 225.19V228.89M426.45 223.12V227.73M430.1 222.9V228.4M433.75 224.97V230.57M437.4 221.6V227.29M441.05 221.93V227.71M444.7 223.42V229.28M448.35 219.99V225.95M452 219.82V225.87M455.65 219.37V225.51" fill="none" stroke="#2a9be0" stroke-width="0.8"/>
<path d="M461 204.37V207.95M465 205.12V209M469 205.45V209.62M473 205.14V209.62M477 205.06V209.83M481 206.54V211.82M485 206.9V213.26M489 206.87V214.33" fill="none" stroke="#2a9be0" stroke-width="0.9"/>
<path d="M414.4 183.01L414.9 183.6L415.4 183.75L415.9 183.49L416.4 184.13L416.9 183.49L417.4 183.69L417.9 183.15L418.4 183.81L418.9 184.12L419.4 184.09L419.9 183.45L420.4 184.53L420.9 184.2L421.4 183.83L421.9 183.87L422.4 184.43L422.9 183.64L423.4 184.34L423.9 184.5L424.4 184.26L424.9 184.81L425.4 184.3L425.9 184.34L426.4 184.14L426.9 185.08L427.4 184.28L427.9 184.86L428.4 184.51L428.9 185.3L429.4 185.37L429.9 184.13L430.4 185.55L430.9 185.07L431.4 184.39L431.9 185.05L432.4 184.49L432.9 185.26L433.4 184.81L433.9 185.14L434.4 185.11L434.9 185.6L435.4 185.97L435.9 186.2L436.4 185.41L436.9 185.82L437.4 185.09L437.9 185.67L438.4 186.56L438.9 185.45L439.4 186.57L439.9 186.33L440.4 185.9L440.9 186.64L441.4 186.02L441.9 186.94L442.4 185.87L442.9 185.99L443.4 186.94L443.9 186.58L444.4 186.23L444.9 186.81L445.4 186.62L445.9 187.11L446.4 187.52L446.9 187.81L447.4 186.83L447.9 187.71L448.4 188.4L448.9 187.8L449.4 188.37L449.9 187.56L450.4 188.78L450.9 188.51L451.4 189.07L451.9 189.06L452.4 189.31L452.9 188.31L453.4 189.37L453.9 188.78L454.4 189.01L454.9 189.23L455.4 189.88L455.9 190.24L456.4 190.98L456.9 190.01L457.4 190.57L457.9 191.12L458.4 192.07L458.9 192.01L459.4 192.07L459.9 192.49L460.4 192.41L460.9 191.96L461.4 191.75L461.9 192.34L462.4 193L462.9 192.67L463.4 191.97L463.9 192.58L464.4 192.57L464.9 192.92L465.4 192.99L465.9 193.57L466.4 192.78L466.9 192.95L467.4 193.3L467.9 193.75L468.4 193.57L468.9 193.31L469.4 193.86L469.9 193.47L470.4 194.23L470.9 193.38L471.4 193.26L471.9 194.34L472.4 193.7L472.9 194.57L473.4 194.33L473.9 194.29L474.4 193.8L474.9 194.88L475.4 193.97L475.9 195.33L476.4 195.31L476.9 194.6L477.4 194.46L477.9 195.62L478.4 195.15L478.9 194.75L479.4 195.38L479.9 195.13L480.4 195.5L480.9 195.99L481.4 196.54L481.9 196.55L482.4 195.82L482.9 196.43L483.4 196.61L483.9 197.47L484.4 196.38L484.9 197.13L485.4 197.86L485.9 197.31L486.4 197.28L486.9 197.86L487.4 197.69L487.9 198.71L488.4 197.69L488.9 198.03L489.4 198.02L489.9 199.07L490.4 198.65L490.9 199.66L491.4 199.82L491.4 205.44L490.9 205.84L490.4 205.52L489.9 205.05L489.4 206L488.9 204.8L488.4 205.36L487.9 204.51L487.4 204.73L486.9 205.35L486.4 204.89L485.9 203.94L485.4 204.25L484.9 203.89L484.4 204.15L483.9 203.34L483.4 203.97L482.9 203.7L482.4 203.78L481.9 203.28L481.4 203.61L480.9 203.07L480.4 203.35L479.9 203.18L479.4 203.18L478.9 202.88L478.4 202.74L477.9 202.44L477.4 202.44L476.9 202.81L476.4 202.13L475.9 202.77L475.4 201.69L474.9 202.78L474.4 202.75L473.9 202.26L473.4 202.07L472.9 201.36L472.4 201.67L471.9 202.13L471.4 201.66L470.9 201.95L470.4 201.18L469.9 201.42L469.4 201.6L468.9 201.5L468.4 201.57L467.9 200.71L467.4 201.46L466.9 200.94L466.4 201.37L465.9 201.52L465.4 201.45L464.9 200.38L464.4 200.52L463.9 201.14L463.4 200.85L462.9 200.46L462.4 201.03L461.9 200.45L461.4 201.16L460.9 200.78L460.4 200.95L459.9 200.86L459.4 201.9L458.9 201.37L458.4 203.14L457.9 203.34L457.4 203.72L456.9 204.54L456.4 204.94L455.9 206.36L455.4 206.63L454.9 206.8L454.4 207.61L453.9 207.69L453.4 207.03L452.9 207.34L452.4 207.03L451.9 207.26L451.4 207.41L450.9 207.81L450.4 207.73L449.9 207.9L449.4 208.07L448.9 208.52L448.4 208.17L447.9 208.68L447.4 209.21L446.9 208.78L446.4 208.75L445.9 208.76L445.4 208.47L444.9 209.39L444.4 208.37L443.9 209.75L443.4 209.42L442.9 208.57L442.4 208.99L441.9 209.58L441.4 209.9L440.9 209.63L440.4 209.43L439.9 209.28L439.4 208.99L438.9 210.1L438.4 208.9L437.9 209.61L437.4 209.08L436.9 210.2L436.4 209.32L435.9 209.09L435.4 209.93L434.9 210.03L434.4 210.18L433.9 209.89L433.4 209.3L432.9 209.97L432.4 209.44L431.9 209.41L431.4 210.41L430.9 210.37L430.4 210.31L429.9 210.74L429.4 209.51L428.9 209.75L428.4 210.76L427.9 209.65L427.4 209.93L426.9 209.97L426.4 210.73L425.9 210.85L425.4 209.84L424.9 210.76L424.4 210.16L423.9 210.21L423.4 210.81L422.9 209.95L422.4 209.6L421.9 210.42L421.4 209.53L420.9 209.89L420.4 210.56L419.9 210.58L419.4 210.37L418.9 210.72L418.4 210.64L417.9 210.33L417.4 209.43L416.9 210.41L416.4 210.68L415.9 209.87L415.4 209.32L414.9 209.67L414.4 210.62Z" fill="#ff5a12"/>
<path d="M415.5 175.75L418.6 184.1L414.8 184.1ZM419 176.39L422.1 184.28L418.3 184.28ZM422.5 177.7L425.6 184.6L421.8 184.6ZM426 178.78L429.1 184.95L425.3 184.95ZM429.5 178.61L432.6 185.3L428.8 185.3ZM433 180L436.1 185.77L432.3 185.77ZM436.5 179.88L439.6 186.23L435.8 186.23ZM440 181.29L443.1 186.7L439.3 186.7ZM443.5 181.88L446.6 187.17L442.8 187.17ZM447 182.74L450.1 187.98L446.3 187.98ZM450.5 184.65L453.6 188.92L449.8 188.92ZM454 185.71L457.1 189.87L453.3 189.87Z" fill="#ff5a12"/>
<path d="M414.4 209.52L416.6 209.52L415.5 229.37ZM418.05 209.56L420.25 209.56L419.15 230.15ZM421.7 209.61L423.9 209.61L422.8 229.19ZM425.35 209.66L427.55 209.66L426.45 227.12ZM429 209.69L431.2 209.69L430.1 226.9ZM432.65 209.4L434.85 209.4L433.75 228.97ZM436.3 209.11L438.5 209.11L437.4 225.6ZM439.95 208.82L442.15 208.82L441.05 225.93ZM443.6 208.52L445.8 208.52L444.7 227.42ZM447.25 207.83L449.45 207.83L448.35 223.99ZM450.9 207.1L453.1 207.1L452 223.82ZM454.55 205.63L456.75 205.63L455.65 223.37Z" fill="#ff5a12" fill-opacity="0.85"/>
<path d="M414.5 210.01V215.26M415.4 210.02V216.12M416.3 210.03V219.2M417.2 210.04V220.15M418.1 210.05V217.79M419 210.06V219.26M419.9 210.07V219.85M420.8 210.08V218.31M421.7 210.1V217.65M422.6 210.11V215.02M423.5 210.12V215.83M424.4 210.13V217.27M425.3 210.14V219M426.2 210.15V215.17M427.1 210.16V215.64M428 210.17V213.32M428.9 210.19V217.28M429.8 210.2V215.68M430.7 210.14V217.69M431.6 210.07V214.19M432.5 210V216.62M433.4 209.93V216.59M434.3 209.86V215.21M435.2 209.78V213.44M436.1 209.71V214.6M437 209.64V216.54M437.9 209.57V213.08M438.8 209.5V212.37M439.7 209.42V214.48M440.6 209.35V212.99M441.5 209.28V216.27M442.4 209.21V216.25M443.3 209.14V216.9M444.2 209.06V216.15M445.1 208.98V214.87M446 208.8V211.96M446.9 208.62V215.62M447.8 208.44V214.9M448.7 208.26V214.86M449.6 208.08V214.42M450.5 207.9V215.06M451.4 207.72V211.72M452.3 207.54V213.82M453.2 207.36V212.74M454.1 207.18V211.51M455 207V211.29M455.9 205.8V210.12M456.8 204.6V211.98M457.7 203.4V211.21" fill="none" stroke="#ff5a12" stroke-width="0.6" stroke-opacity="0.45"/>
<path d="M460.1 200.1L461.9 200.1L461 206.37ZM464.1 200.5L465.9 200.5L465 207.12ZM468.1 200.9L469.9 200.9L469 207.45ZM472.1 201.45L473.9 201.45L473 207.14ZM476.1 202.05L477.9 202.05L477 207.06ZM480.1 202.76L481.9 202.76L481 208.54ZM484.1 203.8L485.9 203.8L485 208.9ZM488.1 204.85L489.9 204.85L489 208.87Z" fill="#ff5a12" fill-opacity="0.85"/>
<path d="M458 191.38V189.08M459.6 192.08V190.3M461.2 192.3V190.32M462.8 192.52V190.53M464.4 192.74V191.12M466 192.95V190.42M467.6 193.17V190.98M469.2 193.39V190.7M470.8 193.66V191.33M472.4 193.98V192.32M474 194.3V191.6M475.6 194.62V192.73M477.2 194.94V193.18M478.8 195.26V193.07M480.4 195.63V193.79M482 196.16V193.89M483.6 196.69V194.31M485.2 197.22V195.03M486.8 197.75V195.18M488.4 198.28V195.84M490 198.8V196.37" fill="none" stroke="#ff5a12" stroke-width="0.8" stroke-opacity="0.6"/>
<polyline points="493.1,189.7 495.2,189.9 498.2,190.4 501.2,191.4 504.2,192.9 507.2,195.1 509.5,197.5 511.2,200.1 513,203.9 514.4,208.6 515.4,215.1 516,239.1 516.4,275.1" fill="none" stroke="#2a9be0" stroke-width="1.2" stroke-linejoin="round"/>
<polyline points="492.9,190.6 495,190.8 498,191.3 501,192.3 504,193.8 507,196 509.3,198.4 511,201 512.8,204.8 514.2,209.5 515.2,216 515.8,240 516.2,276" fill="none" stroke="#ff5a12" stroke-width="2" stroke-linejoin="round"/>
<line x1="493.2" y1="186.5" x2="493.2" y2="199" stroke="#2a9be0" stroke-width="1.1"/>
<line x1="500.5" y1="186" x2="500.5" y2="203" stroke="#ff5a12" stroke-width="1.5" stroke-opacity="0.6"/>
<line x1="511.7" y1="191.4" x2="511.7" y2="210.2" stroke="#ff5a12" stroke-width="1.5" stroke-opacity="0.6"/>
</g>
<rect x="328.6" y="175.7" width="187.7" height="111.4" fill="none" stroke="#7d7d7d" stroke-width="1"/>
<line x1="328.6" y1="287.1" x2="328.6" y2="285.1" stroke="#7d7d7d" stroke-width="0.8"/>
<line x1="328.6" y1="175.7" x2="328.6" y2="177.7" stroke="#7d7d7d" stroke-width="0.8"/>
<text x="328.6" y="300.2" font-size="10.2" text-anchor="middle" fill="#2b2b2b" stroke="#2b2b2b">0</text>
<line x1="366.14" y1="287.1" x2="366.14" y2="285.1" stroke="#7d7d7d" stroke-width="0.8"/>
<line x1="366.14" y1="175.7" x2="366.14" y2="177.7" stroke="#7d7d7d" stroke-width="0.8"/>
<text x="366.14" y="300.2" font-size="10.2" text-anchor="middle" fill="#2b2b2b" stroke="#2b2b2b">5</text>
<line x1="403.68" y1="287.1" x2="403.68" y2="285.1" stroke="#7d7d7d" stroke-width="0.8"/>
<line x1="403.68" y1="175.7" x2="403.68" y2="177.7" stroke="#7d7d7d" stroke-width="0.8"/>
<text x="403.68" y="300.2" font-size="10.2" text-anchor="middle" fill="#2b2b2b" stroke="#2b2b2b">10</text>
<line x1="441.22" y1="287.1" x2="441.22" y2="285.1" stroke="#7d7d7d" stroke-width="0.8"/>
<line x1="441.22" y1="175.7" x2="441.22" y2="177.7" stroke="#7d7d7d" stroke-width="0.8"/>
<text x="441.22" y="300.2" font-size="10.2" text-anchor="middle" fill="#2b2b2b" stroke="#2b2b2b">15</text>
<line x1="478.76" y1="287.1" x2="478.76" y2="285.1" stroke="#7d7d7d" stroke-width="0.8"/>
<line x1="478.76" y1="175.7" x2="478.76" y2="177.7" stroke="#7d7d7d" stroke-width="0.8"/>
<text x="478.76" y="300.2" font-size="10.2" text-anchor="middle" fill="#2b2b2b" stroke="#2b2b2b">20</text>
<line x1="516.3" y1="287.1" x2="516.3" y2="285.1" stroke="#7d7d7d" stroke-width="0.8"/>
<line x1="516.3" y1="175.7" x2="516.3" y2="177.7" stroke="#7d7d7d" stroke-width="0.8"/>
<text x="516.3" y="300.2" font-size="10.2" text-anchor="middle" fill="#2b2b2b" stroke="#2b2b2b">25</text>
<line x1="328.6" y1="287.1" x2="330.6" y2="287.1" stroke="#7d7d7d" stroke-width="0.8"/>
<line x1="514.3" y1="287.1" x2="516.3" y2="287.1" stroke="#7d7d7d" stroke-width="0.8"/>
<text x="325.6" y="291.5" font-size="10.2" text-anchor="end" fill="#2b2b2b" stroke="#2b2b2b">2</text>
<line x1="328.6" y1="249.97" x2="330.6" y2="249.97" stroke="#7d7d7d" stroke-width="0.8"/>
<line x1="514.3" y1="249.97" x2="516.3" y2="249.97" stroke="#7d7d7d" stroke-width="0.8"/>
<text x="325.6" y="254.37" font-size="10.2" text-anchor="end" fill="#2b2b2b" stroke="#2b2b2b">2.5</text>
<line x1="328.6" y1="212.83" x2="330.6" y2="212.83" stroke="#7d7d7d" stroke-width="0.8"/>
<line x1="514.3" y1="212.83" x2="516.3" y2="212.83" stroke="#7d7d7d" stroke-width="0.8"/>
<text x="325.6" y="217.23" font-size="10.2" text-anchor="end" fill="#2b2b2b" stroke="#2b2b2b">3</text>
<line x1="328.6" y1="175.7" x2="330.6" y2="175.7" stroke="#7d7d7d" stroke-width="0.8"/>
<line x1="514.3" y1="175.7" x2="516.3" y2="175.7" stroke="#7d7d7d" stroke-width="0.8"/>
<text x="325.6" y="180.1" font-size="10.2" text-anchor="end" fill="#2b2b2b" stroke="#2b2b2b">3.5</text>
<text x="423" y="314.2" font-size="12.6" text-anchor="middle" fill="#2b2b2b" stroke="#2b2b2b">Time/h</text>
<text transform="translate(302.6 232.2) rotate(-90)" font-size="12" text-anchor="middle" fill="#2b2b2b" stroke="#2b2b2b">Voltage<tspan font-size="8.6" dy="4.4">min</tspan><tspan dy="-4.4">/V</tspan></text>
<line x1="333.7" y1="247.3" x2="409.5" y2="247.3" stroke="#111" stroke-width="0.9"/>
<path d="M331.2 247.3L334.8 245.6L334.8 249Z" fill="#111"/>
<path d="M412 247.3L408.4 245.6L408.4 249Z" fill="#111"/>
<line x1="417.7" y1="247.3" x2="488.8" y2="247.3" stroke="#111" stroke-width="0.9"/>
<path d="M415.2 247.3L418.8 245.6L418.8 249Z" fill="#111"/>
<path d="M491.3 247.3L487.7 245.6L487.7 249Z" fill="#111"/>
<line x1="496.1" y1="247.3" x2="513.4" y2="247.3" stroke="#111" stroke-width="0.9"/>
<path d="M493.6 247.3L497.2 245.6L497.2 249Z" fill="#111"/>
<path d="M515.9 247.3L512.3 245.6L512.3 249Z" fill="#111"/>
<text x="368.6" y="243.6" font-size="10.2" text-anchor="middle" fill="#1a1a1a" stroke="#1a1a1a">NEDC 10&#176;C</text>
<text x="454.7" y="243.6" font-size="10.2" text-anchor="middle" fill="#1a1a1a" stroke="#1a1a1a">NEDC &#8722;20&#176;C</text>
<text x="503.6" y="243.6" font-size="10.2" text-anchor="middle" fill="#1a1a1a" stroke="#1a1a1a">HSW</text>
<text x="336" y="276.3" font-size="11.1" fill="#1a1a1a" stroke="#1a1a1a">RMSE 23.1mV</text>
<rect x="416.4" y="258.4" width="97.6" height="23.6" fill="#fff" stroke="#555" stroke-width="0.8"/>
<line x1="419.4" y1="264.3" x2="437.8" y2="264.3" stroke="#2a9be0" stroke-width="1.1"/>
<line x1="419.4" y1="275.5" x2="437.8" y2="275.5" stroke="#ff5a12" stroke-width="1.1"/>
<text x="439.7" y="267.8" font-size="9.9" fill="#1a1a1a" stroke="#1a1a1a">Measured Voltage</text>
<text x="439.7" y="279" font-size="9.9" fill="#1a1a1a" stroke="#1a1a1a">BPNN Estimate</text>
<text x="3.3" y="327.7" font-size="11" font-weight="bold" fill="#111" stroke="#111">(e)</text>
<clipPath id="ce"><rect x="56.7" y="320.4" width="239" height="164.9"/></clipPath>
<g clip-path="url(#ce)">
<path d="M57.4 347.55L57.9 343.01L58.4 343.71L58.9 354.64L59.4 349.83L59.9 354.79L60.4 354.12L60.9 352.88L61.4 351.56L61.9 349.56L62.4 348.4L62.9 347.76L63.4 348.62L63.9 348.35L64.4 350.83L64.9 347.89L65.4 350L65.9 347.77L66.4 343.7L66.9 345.53L67.4 342.55L67.9 341.29L68.4 348.05L68.9 351.03L69.4 350.14L69.9 349.61L70.4 352.91L70.9 351.77L71.4 349.04L71.9 352.64L72.4 349.27L72.9 351.8L73.4 349.43L73.9 349.1L74.4 348.01L74.9 348.71L75.4 349.97L75.9 348.2L76.4 343.22L76.9 345.15L77.4 342.97L77.9 341.72L78.4 343.61L78.9 350.49L79.4 354.76L79.9 353.47L80.4 354.12L80.9 353.19L81.4 350.84L81.9 350.67L82.4 350.35L82.9 348.85L83.4 349L83.9 350.49L84.4 345.7L84.9 346.29L85.4 346.88L85.9 347.45L86.4 346.65L86.9 346.51L87.4 342.17L87.9 342.24L88.4 344.35L88.9 350.69L89.4 353.53L89.9 354.96L90.4 353.1L90.9 349.2L91.4 350.7L91.9 353.12L92.4 353.23L92.9 350.64L93.4 348.54L93.9 347.96L94.4 349.02L94.9 349.79L95.4 346.03L95.9 344.51L96.4 342.77L96.9 342.96L97.4 346.63L97.9 344.96L98.4 348.49L98.9 349.42L99.4 351.2L99.9 353.77L100.4 352.97L100.9 349.4L101.4 351.3L101.9 352.1L102.4 351.79L102.9 349.75L103.4 347.56L103.9 351.61L104.4 347.99L104.9 348.88L105.4 347.17L105.9 343.83L106.4 344.15L106.9 342.49L107.4 342.64L107.9 342.47L108.4 351.49L108.9 350.93L109.4 351.18L109.9 353.9L110.4 349.13L110.9 349.62L111.4 353.71L111.9 351.46L112.4 350.27L112.9 348.62L113.4 349.66L113.9 347.11L114.4 350.32L114.9 349.5L115.4 345.87L115.9 343.47L116.4 348.03L116.9 343.88L117.4 345.41L117.9 346.47L118.4 353.79L118.9 354.18L119.4 351.93L119.9 354.05L120.4 351.77L120.9 350.58L121.4 351.73L121.9 350.24L122.4 352.21L122.9 351.98L123.4 347.22L123.9 346.75L124.4 347.45L124.9 347.31L125.4 349.65L125.9 348.94L126.4 348.48L126.9 346.44L127.4 345.51L127.9 343L128.4 351.24L128.9 349.02L129.4 354L129.9 350.66L130.4 349.48L130.9 350.89L131.4 350.76L131.9 352.55L132.4 347.62L132.9 348.35L133.4 351.73L133.9 350.86L134.4 348.89L134.9 347.86L135.4 345.22L135.9 348.52L136.4 347.22L136.9 345.11L137.4 342.39L137.9 342.72L138.4 351.28L138.9 350.99L139.4 349.37L139.9 351.44L140.4 351.69L140.9 350.72L141.4 351.1L141.9 350.17L142.4 349.82L142.9 350.66L143.4 349.31L143.9 346.9L144.4 349.87L144.9 347.56L145.4 346.61L145.9 347.52L146.4 347.14L146.9 347.11L147.4 346.26L147.9 345.5L148.4 353.33L148.9 349.94L149.4 353.2L149.9 350.53L150.4 350.55L150.9 349.72L151.4 351.15L151.9 348.27L152.4 351.48L152.9 351.41L153.4 350.96L153.9 346.46L154.4 348.92L154.9 349.48L155.4 344.05L155.9 344.38L156.4 344.21L156.9 344.76L157.4 342.4L157.9 344.77L158.4 351.06L158.9 352.93L159.4 352.19L159.9 353.12L160.4 350.48L160.9 353.24L161.4 353.15L161.9 352.46L162.4 347.92L162.9 352.57L163.4 349.74L163.9 347.3L164.4 347.65L164.9 347.53L165.4 346.92L165.9 344.68L166.4 344.17L166.9 344.14L167.4 346.03L167.9 344.21L168.4 349.23L168.9 351.71L169.4 350.21L169.9 349.07L170.4 354.86L170.9 350.76L171.4 351.95L171.9 350.25L172.4 347.81L172.9 352.28L173.4 351.87L173.9 346.76L174.4 347.53L174.9 346.65L175.4 344.79L175.9 347.14L176.4 347.25L176.9 346.5L177.4 345.37L177.9 341.75L178.4 350.38L178.9 352.09L179.4 353.22L179.9 351.32L180.4 351.7L180.9 354.05L181.4 348.85L181.9 349.71L182.4 349.23L182.9 352.84L183.4 347.63L183.9 345.94L184.4 347.55L184.9 348.33L185.4 344.75L185.9 348.25L186.4 343.78L186.9 346.22L187.4 342.35L187.9 347.08L188.4 350.3L188.9 353.49L189.4 354.14L189.9 350.64L190.4 349.68L190.9 352.64L191.4 351.8L191.9 351.07L192.4 352.27L192.9 349.75L193.4 349.34L193.9 348.67L194.4 347.86L194.9 346.96L195.4 344.88L195.9 345.08L196.4 344.28L196.9 343.57L197.4 346.17L197.9 342.64L198.4 350.44L198.9 352.38L199.4 351.1L199.9 350.67L200.4 351.47L200.9 352.25L201.4 352.94L201.9 354.11L202.4 352.79L202.9 349.64L203.4 349.16L203.9 348.33L204.4 346.66L204.9 350.33L205.4 344.42L205.9 344.62L206.4 346.76L206.9 345.71L207.4 343.23L207.9 347.74L208.4 351.78L208.9 352.91L209.4 349.88L209.9 354.69L210.4 349.97L210.9 351.72L211.4 354.3L211.9 354.04L212.4 353.18L212.9 352.12L213.4 347.94L213.9 346.12L214.4 348.03L214.9 345.09L215.4 349.86L215.9 343.53L216.4 344.83L216.9 343.48L217.4 341.73L217.9 345.29L218.4 349.9L218.9 354.85L219.4 353.58L219.9 351.68L220.4 354.51L220.9 354.25L221.4 351.03L221.9 353.55L222.4 353.43L222.9 350.96L223.4 348.74L223.9 351.42L224.4 351.06L224.9 346.88L225.4 344.7L225.9 348.78L226.4 346.95L226.9 343.75L227.4 345.14L227.9 344.31L228.4 355.07L228.9 351.61L229.4 350.75L229.9 349.83L230.4 351.63L230.9 355.52L231.4 350.47L231.9 351.3L232.4 353.77L232.9 347.37L233.4 348.49L233.9 351.04L234.4 346.07L234.9 350.46L235.4 349.28L235.9 344.52L236.4 346.61L236.9 345.78L237.4 345.99L237.9 344.47L238.4 351.98L238.9 351.12L239.4 351.43L239.9 350.74L240.4 355.12L240.9 355.02L241.4 351.41L241.9 352.8L242.4 350.97L242.9 349.11L243.4 348.91L243.9 351.99L244.4 347.64L244.9 348.45L245.4 350.04L245.9 345.54L246.4 348L246.9 343.22L247.4 346.32L247.9 347.64L248.4 354.81L248.9 355.64L249.4 354.06L249.9 355.67L250.4 351.48L250.9 352.94L251.4 350.63L251.9 349.23L252.4 350.76L252.9 351.83L253.4 351.57L253.9 346.39L254.4 351.33L254.9 346.55L255.4 346.21L255.9 348.84L256.4 348.6L256.9 347.04L257.4 344.01L257.9 345.74L258.4 354.91L258.9 352.05L259.4 354.74L259.9 354.61L260.4 352.74L260.9 355.31L261.4 351.74L261.9 353.32L262.4 352.05L262.9 349.59L263.4 350.18L263.9 350.02L264.4 348.99L264.9 345.82L265.4 350.5L265.9 349.74L266.4 343.55L266.9 348.38L266.9 394.07L266.4 396.3L265.9 400.99L265.4 404.59L264.9 401.63L264.4 404.25L263.9 412.24L263.4 415.47L262.9 417.41L262.4 413.74L261.9 405.68L261.4 410.62L260.9 405.66L260.4 403.05L259.9 402.2L259.4 396.69L258.9 394.66L258.4 400.8L257.9 395.53L257.4 397.06L256.9 394.53L256.4 400.37L255.9 397.7L255.4 399.39L254.9 405.31L254.4 404.63L253.9 414.5L253.4 411.92L252.9 418.49L252.4 413.46L251.9 412.93L251.4 404.78L250.9 405.39L250.4 402.04L249.9 402.2L249.4 401.76L248.9 397.93L248.4 399.88L247.9 399.66L247.4 399.34L246.9 395.77L246.4 399.08L245.9 399.51L245.4 404.92L244.9 406.99L244.4 403.96L243.9 414.38L243.4 411.77L242.9 411.6L242.4 410.56L241.9 407.25L241.4 405.29L240.9 403.68L240.4 402.94L239.9 399.54L239.4 395.8L238.9 398.09L238.4 401.89L237.9 401.2L237.4 394.51L236.9 397.13L236.4 401.4L235.9 403.74L235.4 402.55L234.9 402.64L234.4 407.62L233.9 412.99L233.4 411.21L232.9 417.89L232.4 416.02L231.9 412.4L231.4 404.71L230.9 400.12L230.4 402.1L229.9 398.98L229.4 394.17L228.9 400.19L228.4 396.6L227.9 394.79L227.4 395.94L226.9 396.24L226.4 399.04L225.9 398.02L225.4 400.28L224.9 403.59L224.4 410.3L223.9 408.28L223.4 417.18L222.9 417.88L222.4 410.88L221.9 409.09L221.4 406.55L220.9 406.34L220.4 402.8L219.9 400.67L219.4 400.89L218.9 395.24L218.4 401.35L217.9 401.52L217.4 396.38L216.9 401.5L216.4 397.44L215.9 403.8L215.4 405.09L214.9 406.52L214.4 404.94L213.9 407.88L213.4 413L212.9 414.72L212.4 413.85L211.9 412.88L211.4 404.91L210.9 407.2L210.4 398.28L209.9 401.06L209.4 398.6L208.9 395.94L208.4 395.14L207.9 400.4L207.4 401.91L206.9 395L206.4 400.45L205.9 400.98L205.4 405.66L204.9 406.87L204.4 411.51L203.9 415.13L203.4 413.3L202.9 417.44L202.4 410.42L201.9 410.7L201.4 407.78L200.9 406.84L200.4 400.82L199.9 397.89L199.4 400.03L198.9 396.08L198.4 398.61L197.9 396.54L197.4 399.57L196.9 396.07L196.4 397.42L195.9 400.59L195.4 404.12L194.9 402.9L194.4 407.45L193.9 412.4L193.4 414.41L192.9 417.5L192.4 411.31L191.9 405.52L191.4 405.48L190.9 405.32L190.4 402.64L189.9 401.67L189.4 395.43L188.9 394.71L188.4 394.2L187.9 395.73L187.4 399.29L186.9 397.76L186.4 398.7L185.9 399.45L185.4 405.09L184.9 406.06L184.4 409.18L183.9 412.09L183.4 417.14L182.9 416.41L182.4 414.28L181.9 405.55L181.4 402.35L180.9 403.23L180.4 401.9L179.9 402.56L179.4 398.11L178.9 396.83L178.4 399.73L177.9 398.48L177.4 395.36L176.9 399.95L176.4 401.25L175.9 397.81L175.4 406.15L174.9 409.36L174.4 405.61L173.9 412.23L173.4 412.32L172.9 418.31L172.4 413.35L171.9 407.86L171.4 408.07L170.9 406.93L170.4 403.81L169.9 398.78L169.4 403.34L168.9 402.75L168.4 395.87L167.9 403.08L167.4 400.32L166.9 399.92L166.4 398.35L165.9 401.99L165.4 404.32L164.9 409.98L164.4 412.1L163.9 410.69L163.4 413.83L162.9 416.09L162.4 411.74L161.9 407.7L161.4 409.67L160.9 403.14L160.4 404.1L159.9 403.15L159.4 402.04L158.9 400.82L158.4 403.01L157.9 398.38L157.4 397.71L156.9 402.25L156.4 399.02L155.9 403.71L155.4 404.47L154.9 412.37L154.4 410.83L153.9 416.68L153.4 420.25L152.9 414.28L152.4 410.95L151.9 413.33L151.4 411.6L150.9 402.82L150.4 407.3L149.9 401.11L149.4 399.45L148.9 399.85L148.4 400.85L147.9 402.43L147.4 405.87L146.9 404.63L146.4 399.26L145.9 407.4L145.4 406.73L144.9 407.8L144.4 410.59L143.9 415.88L143.4 417.31L142.9 421.81L142.4 410.95L141.9 408.94L141.4 411.33L140.9 404.72L140.4 404.09L139.9 399.31L139.4 398.38L138.9 400.61L138.4 402.59L137.9 399L137.4 403.13L136.9 402.72L136.4 405.36L135.9 405.34L135.4 408.15L134.9 413.44L134.4 411.86L133.9 418.91L133.4 415.07L132.9 419.87L132.4 415.58L131.9 413.89L131.4 406.49L130.9 403.05L130.4 402.64L129.9 402.97L129.4 403.1L128.9 401.72L128.4 402.05L127.9 403.36L127.4 405.05L126.9 401.44L126.4 400.53L125.9 401.36L125.4 404.26L124.9 412.74L124.4 410.47L123.9 414.68L123.4 420.81L122.9 418.78L122.4 414.77L121.9 409.69L121.4 404.76L120.9 409.56L120.4 401.7L119.9 399.1L119.4 399.25L118.9 397.48L118.4 403.97L117.9 399.81L117.4 403.6L116.9 401.34L116.4 403.33L115.9 408.56L115.4 407.39L114.9 408.09L114.4 415L113.9 415.07L113.4 421.71L112.9 417.89L112.4 416.93L111.9 414.78L111.4 409.46L110.9 407.25L110.4 403.1L109.9 397.91L109.4 400.17L108.9 398.41L108.4 398.95L107.9 401.06L107.4 398.49L106.9 400.64L106.4 401.35L105.9 404.61L105.4 410.02L104.9 413.01L104.4 414.91L103.9 413.5L103.4 415.6L102.9 418.42L102.4 415.55L101.9 407.82L101.4 407.9L100.9 406.05L100.4 401.48L99.9 403.24L99.4 398.24L98.9 397.92L98.4 404.22L97.9 400.71L97.4 404.05L96.9 403.07L96.4 401.36L95.9 405.56L95.4 408.91L94.9 407.61L94.4 415.44L93.9 418.36L93.4 419.58L92.9 416.58L92.4 411.61L91.9 408.28L91.4 410.19L90.9 403.21L90.4 405.55L89.9 400.76L89.4 399.03L88.9 396.97L88.4 403.27L87.9 400.4L87.4 399.02L86.9 402.66L86.4 401.85L85.9 406.51L85.4 403.37L84.9 412.89L84.4 414.2L83.9 417.84L83.4 421.49L82.9 416.26L82.4 413.42L81.9 409.1L81.4 408.1L80.9 405.87L80.4 405.77L79.9 402.53L79.4 400.7L78.9 397.18L78.4 403.79L77.9 401.49L77.4 402.96L76.9 402.51L76.4 399.97L75.9 404.23L75.4 410.42L74.9 406.09L74.4 413.7L73.9 415.28L73.4 416.3L72.9 418.66L72.4 412.98L71.9 409.05L71.4 407.73L70.9 404.19L70.4 404.16L69.9 399.21L69.4 398.54L68.9 400.8L68.4 399.66L67.9 402.36L67.4 397.09L66.9 398.87L66.4 399.73L65.9 400.16L65.4 405.29L64.9 408.57L64.4 410.94L63.9 418.02L63.4 420.35L62.9 413.31L62.4 415.47L61.9 410.9L61.4 409.22L60.9 400.51L60.4 402.14L59.9 402.69L59.4 401.76L58.9 399.5L58.4 402.59L57.9 397.02L57.4 400.26Z" fill="#1280cc"/>
<path d="M57.4 348.55V338.74M57.9 344.01V332.89M58.4 344.71V329M58.9 355.64V345.54M59.4 350.83V345.15M59.9 355.79V353.26M60.4 355.12V351.88M60.9 353.88V351.71M61.4 352.56V350.2M61.9 350.56V343.96M62.4 349.4V346.19M62.9 348.76V343M63.4 349.62V343.12M63.9 349.35V341.93M64.4 351.83V342.12M64.9 348.89V343.09M65.4 351V344.38M65.9 348.77V338.21M66.4 344.7V337.42M66.9 346.53V338.39M67.4 343.55V330.62M67.9 342.29V329M68.4 349.05V332.6M68.9 352.03V343.38M69.4 351.14V347.19M69.9 350.61V348.24M70.4 353.91V350.5M70.9 352.77V350.4M71.4 350.04V347.17M71.9 353.64V351.02M72.4 350.27V346.83M72.9 352.8V344.76M73.4 350.43V341.31M73.9 350.1V343.8M74.4 349.01V340.98M74.9 349.71V342.25M75.4 350.97V342.62M75.9 349.2V341.92M76.4 344.22V334.77M76.9 346.15V338.87M77.4 343.97V336.32M77.9 342.72V329M78.4 344.61V329M78.9 351.49V341.96M79.4 355.76V352.82M79.9 354.47V351.56M80.4 355.12V351.9M80.9 354.19V351.86M81.4 351.84V347.38M81.9 351.67V344.58M82.4 351.35V347.32M82.9 349.85V344.71M83.4 350V344.14M83.9 351.49V345.99M84.4 346.7V339.93M84.9 347.29V341.21M85.4 347.88V337.44M85.9 348.45V342.15M86.4 347.65V340.96M86.9 347.51V335.7M87.4 343.17V333.72M87.9 343.24V329M88.4 345.35V329M88.9 351.69V341.67M89.4 354.53V348.81M89.9 355.96V353.53M90.4 354.1V350.11M90.9 350.2V344.97M91.4 351.7V342.58M91.9 354.12V351.53M92.4 354.23V351.07M92.9 351.64V347.85M93.4 349.54V344.37M93.9 348.96V343.45M94.4 350.02V340.72M94.9 350.79V344.98M95.4 347.03V340.17M95.9 345.51V336.25M96.4 343.77V335.59M96.9 343.96V334.43M97.4 347.63V338.33M97.9 345.96V334.64M98.4 349.49V331.76M98.9 350.42V341.42M99.4 352.2V346.81M99.9 354.77V350.06M100.4 353.97V351.73M100.9 350.4V347.96M101.4 352.3V348.87M101.9 353.1V348.34M102.4 352.79V348.52M102.9 350.75V346.95M103.4 348.56V344.59M103.9 352.61V347.96M104.4 348.99V341.49M104.9 349.88V341.07M105.4 348.17V340.53M105.9 344.83V329M106.4 345.15V337.41M106.9 343.49V334.29M107.4 343.64V332.78M107.9 343.47V329M108.4 352.49V339.12M108.9 351.93V341.56M109.4 352.18V349M109.9 354.9V352.34M110.4 350.13V347.58M110.9 350.62V348.17M111.4 354.71V352.52M111.9 352.46V343.49M112.4 351.27V347.04M112.9 349.62V336.26M113.4 350.66V345.02M113.9 348.11V342.11M114.4 351.32V343.17M114.9 350.5V343.48M115.4 346.87V337.49M115.9 344.47V337.35M116.4 349.03V339.02M116.9 344.88V329M117.4 346.41V334.93M117.9 347.47V330.43M118.4 354.79V339.98M118.9 355.18V347.71M119.4 352.93V349.37M119.9 355.05V352.52M120.4 352.77V349.61M120.9 351.58V347.87M121.4 352.73V350.39M121.9 351.24V347.37M122.4 353.21V347.75M122.9 352.98V340.8M123.4 348.22V343.54M123.9 347.75V338.65M124.4 348.45V342.32M124.9 348.31V342.17M125.4 350.65V342.59M125.9 349.94V339.8M126.4 349.48V342.41M126.9 347.44V339.26M127.4 346.51V338.58M127.9 344V329M128.4 352.24V339.99M128.9 350.02V341.82M129.4 355V351.89M129.9 351.66V349.06M130.4 350.48V343.55M130.9 351.89V349.63M131.4 351.76V346.86M131.9 353.55V350.55M132.4 348.62V344.87M132.9 349.35V341.73M133.4 352.73V345.85M133.9 351.86V346.6M134.4 349.89V337.31M134.9 348.86V341.78M135.4 346.22V332.72M135.9 349.52V342.53M136.4 348.22V339.73M136.9 346.11V331.49M137.4 343.39V330.32M137.9 343.72V329M138.4 352.28V339.88M138.9 351.99V343.67M139.4 350.37V345.25M139.9 352.44V348.78M140.4 352.69V349.13M140.9 351.72V349.12M141.4 352.1V347.77M141.9 351.17V345.26M142.4 350.82V346.01M142.9 351.66V345.61M143.4 350.31V339.08M143.9 347.9V342.97M144.4 350.87V343.03M144.9 348.56V341.45M145.4 347.61V340.96M145.9 348.52V340.47M146.4 348.14V333.08M146.9 348.11V339.81M147.4 347.26V334.65M147.9 346.5V330.75M148.4 354.33V341.75M148.9 350.94V344.87M149.4 354.2V350.77M149.9 351.53V348.26M150.4 351.55V349.36M150.9 350.72V347.59M151.4 352.15V348.95M151.9 349.27V345.61M152.4 352.48V341.59M152.9 352.41V343.17M153.4 351.96V331.74M153.9 347.46V342.74M154.4 349.92V344.83M154.9 350.48V342.89M155.4 345.05V329M155.9 345.38V331.83M156.4 345.21V334.6M156.9 345.76V330.98M157.4 343.4V332.29M157.9 345.77V331.43M158.4 352.06V339.89M158.9 353.93V348.13M159.4 353.19V348.92M159.9 354.12V351.52M160.4 351.48V349.35M160.9 354.24V352.09M161.4 354.15V351.85M161.9 353.46V346.82M162.4 348.92V344.51M162.9 353.57V348.71M163.4 350.74V345.19M163.9 348.3V342.24M164.4 348.65V343.42M164.9 348.53V340.97M165.4 347.92V337.08M165.9 345.68V335.39M166.4 345.17V336.85M166.9 345.14V337.82M167.4 347.03V336.79M167.9 345.21V329M168.4 350.23V336.27M168.9 352.71V346M169.4 351.21V346.8M169.9 350.07V345.64M170.4 355.86V353.52M170.9 351.76V348.34M171.4 352.95V346.08M171.9 351.25V347.71M172.4 348.81V344.67M172.9 353.28V348.84M173.4 352.87V338.68M173.9 347.76V337.22M174.4 348.53V342.08M174.9 347.65V337.82M175.4 345.79V330.25M175.9 348.14V329.21M176.4 348.25V341.11M176.9 347.5V337.5M177.4 346.37V329M177.9 342.75V329M178.4 351.38V339.19M178.9 353.09V346.03M179.4 354.22V351.99M179.9 352.32V345.81M180.4 352.7V348.57M180.9 355.05V345.4M181.4 349.85V347.36M181.9 350.71V346.33M182.4 350.23V346.6M182.9 353.84V348.55M183.4 348.63V342.36M183.9 346.94V341.84M184.4 348.55V342.57M184.9 349.33V343.86M185.4 345.75V339.09M185.9 349.25V339.19M186.4 344.78V336.96M186.9 347.22V339.87M187.4 343.35V332.28M187.9 348.08V333.64M188.4 351.3V338.5M188.9 354.49V346.75M189.4 355.14V351.95M189.9 351.64V349.04M190.4 350.68V348.24M190.9 353.64V348.46M191.4 352.8V350.38M191.9 352.07V346.88M192.4 353.27V349.11M192.9 350.75V343.14M193.4 350.34V345.5M193.9 349.67V338.86M194.4 348.86V343.21M194.9 347.96V336.81M195.4 345.88V338.91M195.9 346.08V334.89M196.4 345.28V336.06M196.9 344.57V334.14M197.4 347.17V336.15M197.9 343.64V330.71M198.4 351.44V332.33M198.9 353.38V347.43M199.4 352.1V349.52M199.9 351.67V349.09M200.4 352.47V349.4M200.9 353.25V350.04M201.4 353.94V349.72M201.9 355.11V351.44M202.4 353.79V349.39M202.9 350.64V337.05M203.4 350.16V342.09M203.9 349.33V341.87M204.4 347.66V340.18M204.9 351.33V344.24M205.4 345.42V329M205.9 345.62V337.51M206.4 347.76V329M206.9 346.71V329.02M207.4 344.23V335.2M207.9 348.74V334.03M208.4 352.78V340.4M208.9 353.91V349.3M209.4 350.88V346.72M209.9 355.69V352.8M210.4 350.97V348.21M210.9 352.72V350.5M211.4 355.3V352.81M211.9 355.04V351.11M212.4 354.18V349.96M212.9 353.12V349.01M213.4 348.94V340.52M213.9 347.12V337.19M214.4 349.03V337.14M214.9 346.09V337.81M215.4 350.86V336.8M215.9 344.53V337.8M216.4 345.83V331.45M216.9 344.48V333.96M217.4 342.73V332.52M217.9 346.29V329M218.4 350.9V339.29M218.9 355.85V351.62M219.4 354.58V350.59M219.9 352.68V348.42M220.4 355.51V352.68M220.9 355.25V352.23M221.4 352.03V348.47M221.9 354.55V348.01M222.4 354.43V349.22M222.9 351.96V348.04M223.4 349.74V344.87M223.9 352.42V340.63M224.4 352.06V343.97M224.9 347.88V340.48M225.4 345.7V339.51M225.9 349.78V343.22M226.4 347.95V340.82M226.9 344.75V333.85M227.4 346.14V329M227.9 345.31V329M228.4 356.07V344.54M228.9 352.61V347.22M229.4 351.75V349.67M229.9 350.83V346.18M230.4 352.63V346.66M230.9 356.52V354.36M231.4 351.47V348.72M231.9 352.3V349.51M232.4 354.77V351.39M232.9 348.37V343.57M233.4 349.49V343.78M233.9 352.04V346.8M234.4 347.07V337.01M234.9 351.46V341.92M235.4 350.28V344.04M235.9 345.52V337.51M236.4 347.61V337.78M236.9 346.78V339.22M237.4 346.99V337.02M237.9 345.47V329M238.4 352.98V341.18M238.9 352.12V346.77M239.4 352.43V348.07M239.9 351.74V348.36M240.4 356.12V351.55M240.9 356.02V353.56M241.4 352.41V349.96M241.9 353.8V350.9M242.4 351.97V346.33M242.9 350.11V346.09M243.4 349.91V345.3M243.9 352.99V346.99M244.4 348.64V340.59M244.9 349.45V340.03M245.4 351.04V344.75M245.9 346.54V338.56M246.4 349V341.37M246.9 344.22V336.58M247.4 347.32V338.16M247.9 348.64V334.52M248.4 355.81V343.99M248.9 356.64V352.11M249.4 355.06V352M249.9 356.67V354.31M250.4 352.48V348.06M250.9 353.94V351.23M251.4 351.63V347.07M251.9 350.23V346.22M252.4 351.76V347.45M252.9 352.83V348.38M253.4 352.57V346.8M253.9 347.39V342.69M254.4 352.33V346.75M254.9 347.55V341.23M255.4 347.21V340.16M255.9 349.84V339.4M256.4 349.6V335.61M256.9 348.04V339.69M257.4 345.01V335.98M257.9 346.74V329.45M258.4 355.91V344.98M258.9 353.05V349.5M259.4 355.74V350.27M259.9 355.61V352M260.4 353.74V350.13M260.9 356.31V353.6M261.4 352.74V350.03M261.9 354.32V350.16M262.4 353.05V349.13M262.9 350.59V346.74M263.4 351.18V345.52M263.9 351.02V344.8M264.4 349.99V342.79M264.9 346.82V335.25M265.4 351.5V344.09M265.9 350.74V339.15M266.4 344.55V333.67M266.9 349.38V339.94" fill="none" stroke="#2f93d8" stroke-width="0.5" stroke-opacity="0.85"/>
<path d="M57.65 348.55V343.6M58.15 344.01V340.37M58.65 344.71V338.49M59.15 355.64V350.48M59.65 350.83V343.95M60.15 355.79V350.81M60.65 355.12V348.72M61.15 353.88V349.58M61.65 352.56V347.3M62.15 350.56V344.5M62.65 349.4V347.85M63.15 348.76V344.92M63.65 349.62V344.99M64.15 349.35V348M64.65 351.83V346.1M65.15 348.89V343.6M65.65 351V344.38M66.15 348.77V345.53M66.65 344.7V340.89M67.15 346.53V340.06M67.65 343.55V340.08M68.15 342.29V336.28M68.65 349.05V345.52M69.15 352.03V349M69.65 351.14V348.47M70.15 350.61V348.33M70.65 353.91V350.32M71.15 352.77V350.8M71.65 350.04V344.07M72.15 353.64V346.79M72.65 350.27V348.69M73.15 352.8V351.47M73.65 350.43V349.41M74.15 350.1V343.5M74.65 349.01V347.57M75.15 349.71V344.63M75.65 350.97V348.15M76.15 349.2V347.02M76.65 344.22V341.74M77.15 346.15V341.01M77.65 343.97V342.87M78.15 342.72V336.53M78.65 344.61V340.21M79.15 351.49V349.08M79.65 355.76V353.51M80.15 354.47V349.54M80.65 355.12V350.34M81.15 354.19V351.28M81.65 351.84V348.83M82.15 351.67V347.89M82.65 351.35V344.89M83.15 349.85V345.62M83.65 350V343.96M84.15 351.49V346.64M84.65 346.7V342.32M85.15 347.29V343.35M85.65 347.88V342.8M86.15 348.45V344.5M86.65 347.65V342.3M87.15 347.51V345.42M87.65 343.17V340.24M88.15 343.24V337.01M88.65 345.35V341.98M89.15 351.69V345.63M89.65 354.53V347.91M90.15 355.96V351.49M90.65 354.1V352.49M91.15 350.2V344.66M91.65 351.7V346.71M92.15 354.12V351.37M92.65 354.23V348.05M93.15 351.64V347.74M93.65 349.54V348.2M94.15 348.96V347.56M94.65 350.02V347.65M95.15 350.79V346.13M95.65 347.03V341.14M96.15 345.51V343.92M96.65 343.77V342.63M97.15 343.96V339.22M97.65 347.63V344.17M98.15 345.96V342.31M98.65 349.49V343.57M99.15 350.42V343.9M99.65 352.2V345.39M100.15 354.77V349.1M100.65 353.97V352.95M101.15 350.4V348.5M101.65 352.3V347.78M102.15 353.1V346.37M102.65 352.79V351.3M103.15 350.75V346.66M103.65 348.56V345.18M104.15 352.61V349.16M104.65 348.99V346.38M105.15 349.88V347.26M105.65 348.17V345.74M106.15 344.83V343.21M106.65 345.15V340.82M107.15 343.49V339.81M107.65 343.64V338.36M108.15 343.47V338.63M108.65 352.49V345.77M109.15 351.93V348.89M109.65 352.18V345.88M110.15 354.9V351.59M110.65 350.13V345.16M111.15 350.62V344.79M111.65 354.71V351.33M112.15 352.46V348.78M112.65 351.27V346.48M113.15 349.62V347.96M113.65 350.66V346.46M114.15 348.11V346.54M114.65 351.32V348.97M115.15 350.5V345.76M115.65 346.87V340.03M116.15 344.47V337.47M116.65 349.03V346.46M117.15 344.88V343M117.65 346.41V342.3M118.15 347.47V343.82M118.65 354.79V351.51M119.15 355.18V349.56M119.65 352.93V347.68M120.15 355.05V350.68M120.65 352.77V348.04M121.15 351.58V347.09M121.65 352.73V347.67M122.15 351.24V344.67M122.65 353.21V346.53M123.15 352.98V346.11M123.65 348.22V342.07M124.15 347.75V346.12M124.65 348.45V344.74M125.15 348.31V342.62M125.65 350.65V347.88M126.15 349.94V345.3M126.65 349.48V348.15M127.15 347.44V345.22M127.65 346.51V343.11M128.15 344V342.58M128.65 352.24V348.69M129.15 350.02V347.64M129.65 355V348.83M130.15 351.66V348.74M130.65 350.48V347.19M131.15 351.89V346.08M131.65 351.76V347.4M132.15 353.55V352.25M132.65 348.62V346.31M133.15 349.35V344.68M133.65 352.73V350.53M134.15 351.86V349.38M134.65 349.89V345.16M135.15 348.86V344.89M135.65 346.22V343.61M136.15 349.52V345.16M136.65 348.22V343.41M137.15 346.11V344.88M137.65 343.39V340.74M138.15 343.72V340.88M138.65 352.28V346M139.15 351.99V350.68M139.65 350.37V347.28M140.15 352.44V350.27M140.65 352.69V347.52M141.15 351.72V345.86M141.65 352.1V350.76M142.15 351.17V344.99M142.65 350.82V345.65M143.15 351.66V349.36M143.65 350.31V343.82M144.15 347.9V345.14M144.65 350.87V345.14M145.15 348.56V347.11M145.65 347.61V343.88M146.15 348.52V344.49M146.65 348.14V341.76M147.15 348.11V342.09M147.65 347.26V342.98M148.15 346.5V345.19M148.65 354.33V350.75M149.15 350.94V347.69M149.65 354.2V347.22M150.15 351.53V346.44M150.65 351.55V348.12M151.15 350.72V347.53M151.65 352.15V346.55M152.15 349.27V347.7M152.65 352.48V346.58M153.15 352.41V347.38M153.65 351.96V348.34M154.15 347.46V342.2M154.65 349.92V346.53M155.15 350.48V348.62M155.65 345.05V341.55M156.15 345.38V344.07M156.65 345.21V343.69M157.15 345.76V342.12M157.65 343.4V337.45M158.15 345.77V343.55M158.65 352.06V348.06M159.15 353.93V347.06M159.65 353.19V347.22M160.15 354.12V347.71M160.65 351.48V346.43M161.15 354.24V349.71M161.65 354.15V349.66M162.15 353.46V348.85M162.65 348.92V345.13M163.15 353.57V350.41M163.65 350.74V348.31M164.15 348.3V346.9M164.65 348.65V345.44M165.15 348.53V342.91M165.65 347.92V343.6M166.15 345.68V343.7M166.65 345.17V339.28M167.15 345.14V343.89M167.65 347.03V340.44M168.15 345.21V340.3M168.65 350.23V345.9M169.15 352.71V349.24M169.65 351.21V345.26M170.15 350.07V349.03M170.65 355.86V354.77M171.15 351.76V347.64M171.65 352.95V350.16M172.15 351.25V347.84M172.65 348.81V344.59M173.15 353.28V352.01M173.65 352.87V345.97M174.15 347.76V342.69M174.65 348.53V346.93M175.15 347.65V342.21M175.65 345.79V341.59M176.15 348.14V343.02M176.65 348.25V342.82M177.15 347.5V340.55M177.65 346.37V344.66M178.15 342.75V335.77M178.65 351.38V347.52M179.15 353.09V350.88M179.65 354.22V350.98M180.15 352.32V349.13M180.65 352.7V346.33M181.15 355.05V350.91M181.65 349.85V348.45M182.15 350.71V345.42M182.65 350.23V346.24M183.15 353.84V347.95M183.65 348.63V347.35M184.15 346.94V340.75M184.65 348.55V342.19M185.15 349.33V348.28M185.65 345.75V341.88M186.15 349.25V347.52M186.65 344.78V340.6M187.15 347.22V345.68M187.65 343.35V337.03M188.15 348.08V345.97M188.65 351.3V346.3M189.15 354.49V349.57M189.65 355.14V352.22M190.15 351.64V349.36M190.65 350.68V344.19M191.15 353.64V352.4M191.65 352.8V350.27M192.15 352.07V349.11M192.65 353.27V348.76M193.15 350.75V347.53M193.65 350.34V348.67M194.15 349.67V345.25M194.65 348.86V343.52M195.15 347.96V342.73M195.65 345.88V341.94M196.15 346.08V343.23M196.65 345.28V344.22M197.15 344.57V340.37M197.65 347.17V342.4M198.15 343.64V339.99M198.65 351.44V344.69M199.15 353.38V351.16M199.65 352.1V346.21M200.15 351.67V346.36M200.65 352.47V346.08M201.15 353.25V346.71M201.65 353.94V351.52M202.15 355.11V348.58M202.65 353.79V350.37M203.15 350.64V345.56M203.65 350.16V343.44M204.15 349.33V344.76M204.65 347.66V343.16M205.15 351.33V349.9M205.65 345.42V340.84M206.15 345.62V343.18M206.65 347.76V344.43M207.15 346.71V343.44M207.65 344.23V337.39M208.15 348.74V343.92M208.65 352.78V347.43M209.15 353.91V351.87M209.65 350.88V348.06M210.15 355.69V349.42M210.65 350.97V349.25M211.15 352.72V346M211.65 355.3V351.73M212.15 355.04V351.7M212.65 354.18V350.1M213.15 353.12V349.46M213.65 348.94V345.12M214.15 347.12V343.58M214.65 349.03V343.82M215.15 346.09V343.43M215.65 350.86V348.86M216.15 344.53V340.93M216.65 345.83V344.3M217.15 344.48V340.8M217.65 342.73V338.77M218.15 346.29V340.58M218.65 350.9V349.24M219.15 355.85V352.47M219.65 354.58V348.9M220.15 352.68V349.65M220.65 355.51V349.5M221.15 355.25V349.94M221.65 352.03V350.78M222.15 354.55V351.23M222.65 354.43V348.83M223.15 351.96V347.8M223.65 349.74V344.7M224.15 352.42V345.48M224.65 352.06V347.01M225.15 347.88V343.6M225.65 345.7V339.63M226.15 349.78V346.2M226.65 347.95V346.89M227.15 344.75V342.11M227.65 346.14V341.58M228.15 345.31V338.62M228.65 356.07V351.43M229.15 352.61V349.91M229.65 351.75V344.79M230.15 350.83V347.43M230.65 352.63V350.27M231.15 356.52V352.2M231.65 351.47V348.41M232.15 352.3V350.63M232.65 354.77V349.5M233.15 348.37V343.22M233.65 349.49V342.66M234.15 352.04V350.21M234.65 347.07V340.61M235.15 351.46V345.67M235.65 350.28V347.76M236.15 345.52V341.65M236.65 347.61V342.83M237.15 346.78V343.89M237.65 346.99V345.35M238.15 345.47V339.45M238.65 352.98V350.99M239.15 352.12V348.18M239.65 352.43V348.81M240.15 351.74V345.32M240.65 356.12V351.77M241.15 356.02V352.48M241.65 352.41V345.55M242.15 353.8V350.69M242.65 351.97V346.61M243.15 350.11V347.7M243.65 349.91V344.36M244.15 352.99V347.48M244.65 348.64V342.67M245.15 349.45V345.54M245.65 351.04V348.7M246.15 346.54V341.75M246.65 349V342.54M247.15 344.22V341.36M247.65 347.32V346.2M248.15 348.64V346.53M248.65 355.81V349.21M249.15 356.64V355.61M249.65 355.06V353.74M250.15 356.67V355.08M250.65 352.48V346.13M251.15 353.94V350.64M251.65 351.63V346.48M252.15 350.23V345M252.65 351.76V348.15M253.15 352.83V347.43M253.65 352.57V348.8M254.15 347.39V343.14M254.65 352.33V349.49M255.15 347.55V346.54M255.65 347.21V342.65M256.15 349.84V347.25M256.65 349.6V346.95M257.15 348.04V341.77M257.65 345.01V341.84M258.15 346.74V345.13M258.65 355.91V351.13M259.15 353.05V348.82M259.65 355.74V354.4M260.15 355.61V352.52M260.65 353.74V349.07M261.15 356.31V353.63M261.65 352.74V345.82M262.15 354.32V348.53M262.65 353.05V349.03M263.15 350.59V344.1M263.65 351.18V349.97M264.15 351.02V348.67M264.65 349.99V343.5M265.15 346.82V342.77M265.65 351.5V349.47M266.15 350.74V346.31M266.65 344.55V339.17M267.15 349.38V344.76" fill="none" stroke="#1280cc" stroke-width="0.5" stroke-opacity="0.9"/>
<path d="M57.4 399.26V402.68M57.9 396.02V399.42M58.4 401.59V410.96M58.9 398.5V401.6M59.4 400.76V404.13M59.9 401.69V410.61M60.4 401.14V408.67M60.9 399.51V402.7M61.4 408.22V425.71M61.9 409.9V414.05M62.4 414.47V421.18M62.9 412.31V420M63.4 419.35V423.22M63.9 417.02V424.63M64.4 409.94V422.24M64.9 407.57V421.82M65.4 404.29V408.7M65.9 399.16V412.7M66.4 398.73V405.09M66.9 397.87V408.48M67.4 396.09V404.44M67.9 401.36V406.09M68.4 398.66V404.31M68.9 399.8V410.17M69.4 397.54V402.74M69.9 398.21V411.25M70.4 403.16V416.09M70.9 403.19V410.2M71.4 406.73V413.23M71.9 408.05V417.04M72.4 411.98V424.96M72.9 417.66V421.36M73.4 415.3V418.78M73.9 414.28V435M74.4 412.7V420.09M74.9 405.09V410.13M75.4 409.42V416.52M75.9 403.23V408.72M76.4 398.97V402.81M76.9 401.51V406.28M77.4 401.96V405.94M77.9 400.49V414.14M78.4 402.79V406.23M78.9 396.18V401.82M79.4 399.7V405.11M79.9 401.53V407.53M80.4 404.77V408.56M80.9 404.87V417.05M81.4 407.1V413.84M81.9 408.1V413.27M82.4 412.42V421.81M82.9 415.26V428.38M83.4 420.49V439.47M83.9 416.84V435.51M84.4 413.2V417.33M84.9 411.89V416.66M85.4 402.37V408.33M85.9 405.51V418.58M86.4 400.85V408.63M86.9 401.66V415.02M87.4 398.02V420.57M87.9 399.4V416.85M88.4 402.27V413.29M88.9 395.97V400.24M89.4 398.03V403.15M89.9 399.76V408.27M90.4 404.55V463.4M90.9 402.21V416.69M91.4 409.19V417.88M91.9 407.28V416.22M92.4 410.61V418.04M92.9 415.58V422.95M93.4 418.58V422.29M93.9 417.36V425.73M94.4 414.44V417.54M94.9 406.61V415.79M95.4 407.91V427.61M95.9 404.56V408.63M96.4 400.36V410.67M96.9 402.07V409.55M97.4 403.05V407.99M97.9 399.71V409.01M98.4 403.22V406.95M98.9 396.92V404.16M99.4 397.24V414.66M99.9 402.24V417.7M100.4 400.48V405.97M100.9 405.05V412.14M101.4 406.9V414.65M101.9 406.82V409.92M102.4 414.55V420.25M102.9 417.42V428.99M103.4 414.6V420.67M103.9 412.5V415.86M104.4 413.91V426.06M104.9 412.01V422.35M105.4 409.02V415.58M105.9 403.61V412.03M106.4 400.35V407.54M106.9 399.64V412.6M107.4 397.49V407.96M107.9 400.06V403.07M108.4 397.95V406.97M108.9 397.41V401.58M109.4 399.17V405.33M109.9 396.91V404.95M110.4 402.1V413.99M110.9 406.25V420.61M111.4 408.46V414.3M111.9 413.78V427.6M112.4 415.93V434.12M112.9 416.89V422.54M113.4 420.71V431.72M113.9 414.07V417.86M114.4 414V417.03M114.9 407.09V422.25M115.4 406.39V414.23M115.9 407.56V413.63M116.4 402.33V408.06M116.9 400.34V403.63M117.4 402.6V415.74M117.9 398.81V403.18M118.4 402.97V431.86M118.9 396.48V402.05M119.4 398.25V406.2M119.9 398.1V416.44M120.4 400.7V404.08M120.9 408.56V420.34M121.4 403.76V408.75M121.9 408.69V415.29M122.4 413.77V428.7M122.9 417.78V426.43M123.4 419.81V423.07M123.9 413.68V418.86M124.4 409.47V413.09M124.9 411.74V414.86M125.4 403.26V409.67M125.9 400.36V405.37M126.4 399.53V409.63M126.9 400.44V406.64M127.4 404.05V407.82M127.9 402.36V422.75M128.4 401.05V405.09M128.9 400.72V409.18M129.4 402.1V407.44M129.9 401.97V405.87M130.4 401.64V408.24M130.9 402.05V408.25M131.4 405.49V408.51M131.9 412.89V430.02M132.4 414.58V428.96M132.9 418.87V424.08M133.4 414.07V420.58M133.9 417.91V431.67M134.4 410.86V429.29M134.9 412.44V438.32M135.4 407.15V414.24M135.9 404.34V415.45M136.4 404.36V415.27M136.9 401.72V419.61M137.4 402.13V407.98M137.9 398V407.9M138.4 401.59V412.95M138.9 399.61V421.43M139.4 397.38V402.2M139.9 398.31V405.54M140.4 403.09V418.74M140.9 403.72V410.8M141.4 410.33V419.76M141.9 407.94V412.44M142.4 409.95V415.27M142.9 420.81V424.18M143.4 416.31V432.7M143.9 414.88V418.72M144.4 409.59V415.57M144.9 406.8V412.67M145.4 405.73V410.77M145.9 406.4V409.62M146.4 398.26V404.31M146.9 403.63V409.29M147.4 404.87V408.88M147.9 401.43V406.63M148.4 399.85V406.98M148.9 398.85V404.86M149.4 398.45V412.22M149.9 400.11V403.7M150.4 406.3V426.11M150.9 401.82V409.47M151.4 410.6V424.22M151.9 412.33V420.52M152.4 409.95V415.94M152.9 413.28V436.27M153.4 419.25V434.41M153.9 415.68V430.57M154.4 409.83V437.9M154.9 411.37V418.77M155.4 403.47V407.81M155.9 402.71V407.37M156.4 398.02V409.31M156.9 401.25V412.26M157.4 396.71V400.61M157.9 397.38V406.21M158.4 402.01V412.5M158.9 399.82V403.73M159.4 401.04V433.28M159.9 402.15V420.91M160.4 403.1V419.77M160.9 402.14V406.64M161.4 408.67V415.25M161.9 406.7V412.07M162.4 410.74V414.08M162.9 415.09V421.19M163.4 412.83V416.83M163.9 409.69V419.85M164.4 411.1V417.25M164.9 408.98V420.04M165.4 403.32V408.73M165.9 400.99V408.16M166.4 397.35V410.97M166.9 398.92V405.17M167.4 399.32V421.64M167.9 402.08V408.43M168.4 394.87V404.83M168.9 401.75V405.87M169.4 402.34V405.7M169.9 397.78V412.12M170.4 402.81V420.32M170.9 405.93V426.73M171.4 407.07V416.52M171.9 406.86V423.06M172.4 412.35V432.11M172.9 417.31V424.81M173.4 411.32V415.25M173.9 411.23V417.8M174.4 404.61V409.06M174.9 408.36V423.32M175.4 405.15V412.08M175.9 396.81V403.19M176.4 400.25V411.8M176.9 398.95V413.57M177.4 394.36V412.13M177.9 397.48V414.2M178.4 398.73V406.3M178.9 395.83V437.09M179.4 397.11V405.88M179.9 401.56V424.68M180.4 400.9V404.49M180.9 402.23V406.15M181.4 401.35V407.38M181.9 404.55V411.23M182.4 413.28V423.84M182.9 415.41V429.52M183.4 416.14V422.19M183.9 411.09V428.12M184.4 408.18V411.79M184.9 405.06V408.07M185.4 404.09V415.88M185.9 398.45V408.58M186.4 397.7V421.3M186.9 396.76V401.43M187.4 398.29V422.48M187.9 394.73V398.14M188.4 393.2V404.5M188.9 393.71V416.05M189.4 394.43V398.39M189.9 400.67V423.38M190.4 401.64V404.67M190.9 404.32V412.4M191.4 404.48V409.78M191.9 404.52V413.67M192.4 410.31V414.12M192.9 416.5V420.41M193.4 413.41V443.93M193.9 411.4V417.89M194.4 406.45V409.9M194.9 401.9V407.29M195.4 403.12V411.22M195.9 399.59V412.15M196.4 396.42V414.93M196.9 395.07V423.16M197.4 398.57V401.66M197.9 395.54V400.45M198.4 397.61V411.2M198.9 395.08V407.22M199.4 399.03V404.66M199.9 396.89V404.21M200.4 399.82V403.73M200.9 405.84V418.33M201.4 406.78V414.32M201.9 409.7V413.55M202.4 409.42V417.26M202.9 416.44V420.01M203.4 412.3V422.89M203.9 414.13V422.34M204.4 410.51V419.7M204.9 405.87V410.47M205.4 404.66V422.21M205.9 399.98V413.02M206.4 399.45V404.91M206.9 394V401.01M207.4 400.91V403.98M207.9 399.4V405.76M208.4 394.14V416.49M208.9 394.94V398.83M209.4 397.6V413.26M209.9 400.06V403.32M210.4 397.28V400.67M210.9 406.2V412.49M211.4 403.91V410.61M211.9 411.88V418.65M212.4 412.85V433.34M212.9 413.72V418.22M213.4 412V428.84M213.9 406.88V413.46M214.4 403.94V407.52M214.9 405.52V413.25M215.4 404.09V409.9M215.9 402.8V409.74M216.4 396.44V401.21M216.9 400.5V403.54M217.4 395.38V399.5M217.9 400.52V406.44M218.4 400.35V404.11M218.9 394.24V410.55M219.4 399.89V405.85M219.9 399.67V422.81M220.4 401.8V405.42M220.9 405.34V416.42M221.4 405.55V409.6M221.9 408.09V412.56M222.4 409.88V420.56M222.9 416.88V433.1M223.4 416.18V425.99M223.9 407.28V412.33M224.4 409.3V412.89M224.9 402.59V406.5M225.4 399.28V406.32M225.9 397.02V402.28M226.4 398.04V414.54M226.9 395.24V403.94M227.4 394.94V399.23M227.9 393.79V397.97M228.4 395.6V403.28M228.9 399.19V403M229.4 393.17V399.97M229.9 397.98V404M230.4 401.1V409.11M230.9 399.12V405.27M231.4 403.71V407.54M231.9 411.4V420.74M232.4 415.02V420.36M232.9 416.89V422.5M233.4 410.21V420.09M233.9 411.99V423.51M234.4 406.62V438.83M234.9 401.64V407.38M235.4 401.55V413.13M235.9 402.74V426.25M236.4 400.4V405.35M236.9 396.13V409.67M237.4 393.51V396.78M237.9 400.2V412.24M238.4 400.89V406.21M238.9 397.09V400.71M239.4 394.8V399.1M239.9 398.54V420.31M240.4 401.94V406.79M240.9 402.68V428.04M241.4 404.29V408.73M241.9 406.25V416.01M242.4 409.56V416.77M242.9 410.6V423.14M243.4 410.77V415.04M243.9 413.38V418.88M244.4 402.96V408.4M244.9 405.99V414.05M245.4 403.92V412.06M245.9 398.51V403.66M246.4 398.08V408.04M246.9 394.77V399.22M247.4 398.34V406.86M247.9 398.66V401.8M248.4 398.88V413.14M248.9 396.93V404.82M249.4 400.76V407.7M249.9 401.2V404.32M250.4 401.04V423.72M250.9 404.39V408.36M251.4 403.78V411.28M251.9 411.93V415.11M252.4 412.46V417.3M252.9 417.49V425.43M253.4 410.92V423.69M253.9 413.5V420.29M254.4 403.63V410.76M254.9 404.31V431.14M255.4 398.39V403.45M255.9 396.7V400.84M256.4 399.37V405.61M256.9 393.53V400M257.4 396.06V408.4M257.9 394.53V397.84M258.4 399.8V403.52M258.9 393.66V401.3M259.4 395.69V402.32M259.9 401.2V431.03M260.4 402.05V406.93M260.9 404.66V412.03M261.4 409.62V415.47M261.9 404.68V416.64M262.4 412.74V417.73M262.9 416.41V428.9M263.4 414.47V429.94M263.9 411.24V415.17M264.4 403.25V407.31M264.9 400.63V407.97M265.4 403.59V414.15M265.9 399.99V405.22M266.4 395.3V399.4M266.9 393.07V415.16" fill="none" stroke="#3a9fe0" stroke-width="0.5" stroke-opacity="0.85"/>
<path d="M57.4 370.97V391.6M58.4 365.74V380.5M59.4 364.55V384.01M60.4 365.09V397.78M61.4 375.97V385.39M62.4 364.9V409.29M63.4 372.52V403.3M64.4 368.04V393.58M65.4 367.42V382.58M66.4 361.23V383.06M67.4 345.69V372.51M68.4 354.37V398.17M69.4 351.78V397.61M70.4 376.23V399.27M71.4 373.9V393.35M72.4 364.4V402.38M73.4 353.33V414.24M74.4 351.12V408.65M75.4 361.13V395.94M76.4 352.99V389.91M77.4 347.86V383.88M78.4 345.84V392.12M79.4 370.94V378.76M80.4 373.93V386.8M81.4 352.41V395.74M82.4 358.09V404.47M83.4 356.51V416.15M84.4 359.25V406.9M85.4 362V394.49M86.4 356.91V392.82M87.4 363.82V394.55M88.4 354.12V391.44M89.4 361.12V396.23M90.4 372.27V383.83M91.4 371.75V396.43M92.4 375.17V409.23M93.4 352.78V411.38M94.4 353.94V409.06M95.4 357.59V405.01M96.4 366.96V389.35M97.4 362.13V399.47M98.4 364.08V400.43M99.4 359.36V380.68M100.4 377.73V390.74M101.4 355.87V391.1M102.4 365.77V403.8M103.4 364.43V403M104.4 368.24V407.14M105.4 367.51V399.36M106.4 353.81V389.32M107.4 349.41V389.93M108.4 375.98V378.3M109.4 365V394.01M110.4 356.18V397.59M111.4 357.17V400.85M112.4 370.35V397.3M113.4 370.87V400.52M114.4 364.56V400.87M115.4 355.47V398.37M116.4 364.52V387.11M117.4 369.91V382.94M118.4 368.25V397.9M119.4 371.61V382.56M120.4 373.82V383.95M121.4 370.65V395M122.4 364.38V411.15M123.4 351.68V405.63M124.4 364.86V405.21M125.4 370.44V395.06M126.4 372.55V386.92M127.4 349.31V380.98M128.4 354.08V398.38M129.4 369.9V401.26M130.4 370.15V389.16M131.4 352.67V382.92M132.4 362.97V414.43M133.4 358.39V399.02M134.4 373.87V411.18M135.4 354.26V394.38M136.4 349.27V402.38M137.4 361.95V386.65M138.4 358.79V393.56M139.4 359.84V382.01M140.4 354.96V397.63M141.4 359.37V409.46M142.4 353.15V406.4M143.4 355.75V410.46M144.4 364.33V406.47M145.4 354.09V401.77M146.4 363.83V385.66M147.4 368.79V394.93M148.4 367.74V380.21M149.4 353.91V387.01M150.4 374.54V393.82M151.4 356.1V393.85M152.4 360.13V389.62M153.4 364.12V405.64M154.4 364.39V409.91M155.4 352.6V392.99M156.4 355.22V398.21M157.4 358.07V382.59M158.4 362.49V401.38M159.4 359.27V388.55M160.4 360.75V400.35M161.4 362.77V388.29M162.4 355.22V409.39M163.4 364.76V397.35M164.4 360.46V394.5M165.4 357.21V397.44M166.4 361.9V383.53M167.4 366.34V392.07M168.4 365.45V389.4M169.4 358.74V396.85M170.4 378.28V403.41M171.4 354.55V391.25M172.4 367.95V411.56M173.4 362.4V407.39M174.4 357.45V403.44M175.4 365.87V386.04M176.4 363.63V388.01M177.4 369.72V383.67M178.4 372.33V385.15M179.4 356.12V377.9M180.4 364.28V386.3M181.4 368.04V389.52M182.4 351.29V406.45M183.4 361.2V404.22M184.4 372.36V384.5M185.4 350.72V390.84M186.4 346.7V386.77M187.4 349.59V377.09M188.4 358.91V392.84M189.4 361.28V393.85M190.4 360.48V382.91M191.4 372.63V381.93M192.4 365.2V410.04M193.4 364.07V413.81M194.4 350.59V407.21M195.4 346.5V389.69M196.4 368.06V393.98M197.4 354.85V385.53M198.4 374.13V382.01M199.4 359.49V399.64M200.4 367.46V379.07M201.4 369.48V401.47M202.4 355.04V396.58M203.4 350.93V404.46M204.4 357.7V402.93M205.4 347.6V395.57M206.4 354.15V400.36M207.4 348.13V391.19M208.4 359.61V388.51M209.4 361.28V389.66M210.4 357.75V394.21M211.4 362.68V396.54M212.4 365.33V396.36M213.4 365.01V388.4M214.4 349.08V400.01M215.4 374.8V383.43M216.4 355.6V382.07M217.4 364.81V393.85M218.4 350.08V400.98M219.4 355.02V378.79M220.4 356.99V396.95M221.4 373.85V403.89M222.4 363.73V394.49M223.4 369.9V399.52M224.4 368.43V387.92M225.4 346.9V387.77M226.4 356V391.24M227.4 353.43V387.98M228.4 366.4V391.48M229.4 369.59V378.29M230.4 353.72V378.54M231.4 373.63V402.6M232.4 365.69V406.35M233.4 357.63V402.41M234.4 363.51V405.61M235.4 356.2V387.68M236.4 364.42V376.83M237.4 356.39V387.59M238.4 363.93V383.71M239.4 356.16V373.29M240.4 360.2V396.17M241.4 372.95V382.32M242.4 365.38V391.85M243.4 359.46V395.63M244.4 367.01V399.11M245.4 372.84V397.98M246.4 351.97V396.54M247.4 371.27V376.95M248.4 355.16V379.65M249.4 369.41V399.6M250.4 358.07V388.77M251.4 356.93V399.45M252.4 363.12V394.32M253.4 366.68V397.59M254.4 362.25V380.99M255.4 364.06V381.21M256.4 372.36V397.86M257.4 348.23V387.74M258.4 360.85V386.4M259.4 369.98V373.9M260.4 362.99V393.78M261.4 359.63V405.92M262.4 364.66V406.66M263.4 367.6V409.27M264.4 371.71V400.39M265.4 374.02V396M266.4 364.04V390.08" fill="none" stroke="#4aa9e2" stroke-width="0.45" stroke-opacity="0.55"/>
<path d="M67.88 400V476.89M77.86 400V479.03M87.84 400V479.24M97.82 400V474.31M107.8 400V476.61M117.78 400V477.08M127.76 400V473.14M137.74 400V474.42M147.72 400V471.43M157.7 400V471.41M167.68 400V470.18M177.66 400V472.12M187.64 400V468.15M197.62 400V469.65M207.6 400V469.59M217.58 400V467.73M227.56 400V470.99M237.54 400V467.07M247.52 400V468.35M257.5 400V472.4M267.48 400V472.93" fill="none" stroke="#2a9ee0" stroke-width="0.8"/>
<path d="M66.28 405V437.39M76.26 405V450.98M86.24 405V451.27M96.22 405V434.59M106.2 405V443.84M116.18 405V434.94M126.16 405V443.47M136.14 405V444.61M146.12 405V429.16M156.1 405V439.18M166.08 405V442.98M176.06 405V442.72M186.04 405V427.76M196.02 405V439.34M206 405V433.48M215.98 405V426.03M225.96 405V433.78M235.94 405V427.02M245.92 405V423.81M255.9 405V441.41M265.88 405V430.4" fill="none" stroke="#5db4e8" stroke-width="0.6" stroke-opacity="0.8"/>
<path d="M68.48 345V328.07M78.46 345V327.26M88.44 345V327.1M98.42 345V327.55M108.4 345V327.12M118.38 345V328.57M128.36 345V328.08M138.34 345V326.9M148.32 345V328.82M158.3 345V328.17M168.28 345V327.82M178.26 345V327.12M188.24 345V327.88M198.22 345V328.91M208.2 345V328.14M218.18 345V327.86M228.16 345V328.2M238.14 345V328.07M248.12 345V328.23M258.1 345V327.26M268.08 345V327.14" fill="none" stroke="#1c8ed6" stroke-width="0.9"/>
<path d="M59 346.06L59.5 349.12L60 342.24L60.5 341.78L61 341.61L61.5 338.73L62 338.45L62.5 333.24L63 331.31L63.5 330.22L64 331.14L64.5 329.37L65 330.58L65.5 332.92L66 332.16L66.5 335.85L67 333.48L67.5 337.86L68 340.9L68.5 341.65L69 339.84L69.5 342.63L70 338.25L70.5 338.72L71 339.7L71.5 340.09L72 341.86L72.5 339.36L73 336.42L73.5 339.45L74 335.39L74.5 337.97L75 332.64L75.5 332.26L76 331.09L76.5 332.63L77 335.61L77.5 335.18L78 335.49L78.5 340.14L79 342.13L79.5 339.15L80 341.54L80.5 339.73L81 339.7L81.5 341.97L82 341.55L82.5 345.16L83 339.99L83.5 343.66L84 343.83L84.5 341.27L85 340.78L85.5 337.98L86 336.64L86.5 334.28L87 338.76L87.5 333.58L88 335.06L88.5 339.97L89 340L89.5 341.89L90 341.89L90.5 342.12L91 346.66L91.5 343.1L92 344.57L92.5 347.51L93 344.97L93.5 349.06L94 344.52L94.5 346.66L95 346.58L95.5 345.95L96 346.87L96.5 341.45L97 343.17L97.5 343.37L98 338.01L98.5 340.69L99 340.52L99.5 341.45L100 343.84L100.5 345.96L101 347.88L101.5 350.18L102 349.53L102.5 352.1L103 350.41L103.5 348.31L104 347.67L104.5 347.3L105 348.53L105.5 347.63L106 350.88L106.5 350.58L107 349.5L107.5 347.16L108 346.38L108.5 343.75L109 346.44L109.5 340.22L110 341.95L110.5 344.12L111 343.03L111.5 348.64L112 347.96L112.5 348.64L113 347.79L113.5 349.77L114 352.05L114.5 350.59L115 349.27L115.5 352.56L116 350.98L116.5 354.27L117 353.29L117.5 353.26L118 353.84L118.5 352.6L119 348.62L119.5 348.71L120 345.46L120.5 344L121 343.49L121.5 343.12L122 344.82L122.5 346.16L123 350.45L123.5 349.42L124 349.39L124.5 352.51L125 351.75L125.5 355.03L126 352.53L126.5 354.63L127 352.43L127.5 354.33L128 356.65L128.5 353.16L129 354.22L129.5 353.13L130 350.02L130.5 348.51L131 352.04L131.5 347.71L132 348.87L132.5 346.98L133 350.04L133.5 347.34L134 350.61L134.5 352.59L135 355.45L135.5 351.94L136 354.67L136.5 355.81L137 356.79L137.5 354.35L138 356.85L138.5 357.83L139 358.11L139.5 355.02L140 356.16L140.5 354.91L141 354.76L141.5 353.59L142 355.77L142.5 348.78L143 353.18L143.5 347.02L144 347.34L144.5 348.91L145 350.74L145.5 355.76L146 357.2L146.5 359.03L147 356.69L147.5 355.06L148 359.11L148.5 361.09L149 356.44L149.5 360.85L150 355.96L150.5 360.35L151 358.82L151.5 361.05L152 360.33L152.5 354.52L153 356.06L153.5 353.13L154 352.94L154.5 349.66L155 351.01L155.5 351.64L156 350.25L156.5 354.54L157 358.65L157.5 355.07L158 361.49L158.5 359.54L159 358.37L159.5 363.22L160 360.5L160.5 360.36L161 360.06L161.5 363.13L162 358.59L162.5 358.93L163 359.01L163.5 357.05L164 360.76L164.5 357.34L165 356.6L165.5 357.02L166 353.86L166.5 352.43L167 354.6L167.5 355.66L168 356.01L168.5 357.16L169 359.23L169.5 362.47L170 359.71L170.5 365.1L171 360.91L171.5 361.21L172 360.39L172.5 362.06L173 361.95L173.5 363.75L174 364.81L174.5 360.47L175 363.06L175.5 358.94L176 358.17L176.5 355.1L177 358.55L177.5 354.87L178 357.03L178.5 353.9L179 359.33L179.5 358.09L180 360.92L180.5 363.41L181 361.2L181.5 363.85L182 366.01L182.5 362.23L183 364.1L183.5 362.43L184 362.2L184.5 364.23L185 363.88L185.5 364.58L186 365.2L186.5 363.36L187 359.97L187.5 359.62L188 359.63L188.5 359.92L189 358.85L189.5 358.24L190 356.95L190.5 362.43L191 360.13L191.5 361.73L192 364.94L192.5 361.69L193 365.51L193.5 362.12L194 361.5L194.5 363.48L195 364.68L195.5 362.85L196 364.6L196.5 362.59L197 364.02L197.5 361.04L198 361.36L198.5 360.46L199 362.23L199.5 361.15L200 361.69L200.5 360.4L201 361.99L201.5 362.99L202 360.5L202.5 361.47L203 363.35L203.5 363.43L204 363.56L204.5 361.62L205 362.66L205.5 361.16L206 362.18L206.5 362.59L207 361.56L207.5 362L208 361.72L208.5 360.69L209 360.42L209.5 362.36L210 359.6L210.5 362.35L211 361.82L211.5 361.97L212 361.35L212.5 359.04L213 359.64L213.5 360.55L214 360.35L214.5 360.13L215 362.97L215.5 363.03L216 362.62L216.5 361.01L217 362.93L217.5 362.82L218 361.22L218.5 360.56L219 360.54L219.5 361.33L220 362.56L220.5 359.89L221 360.77L221.5 360.22L222 361.71L222.5 359.1L223 360.72L223.5 359.73L224 361.03L224.5 361.91L225 362.21L225.5 362.53L226 360.87L226.5 360.93L227 360.48L227.5 360.98L228 360.52L228.5 362.75L229 360.27L229.5 360.74L230 362.73L230.5 362.6L231 363.18L231.5 361.01L232 359.62L232.5 361.93L233 359.85L233.5 361.27L234 358.56L234.5 358.63L235 360.74L235.5 361.3L236 361.18L236.5 361.35L237 361.8L237.5 360.33L238 360.19L238.5 361.23L239 361.97L239.5 360.92L240 360.67L240.5 361.6L241 361.45L241.5 360.91L242 363.16L242.5 363.09L243 359.71L243.5 360.99L244 359.83L244.5 359.89L245 358.59L245.5 358.7L246 358.61L246.5 359.15L247 361.32L247.5 359.56L248 362.73L248.5 362.62L249 360.82L249.5 362.43L250 363.44L250.5 360.53L251 362.27L251.5 362.04L252 361.59L252.5 361.6L253 360.94L253.5 363.02L254 361.33L254.5 362.06L255 363.77L255.5 361.45L256 361.2L256.5 363.46L257 362.28L257.5 362.49L258 361.57L258.5 363.56L259 362.99L259.5 363.96L260 363.71L260.5 362.74L261 365.93L261.5 365.4L262 366.53L262.5 364.46L263 364.76L263.5 364.59L264 365.6L264.5 366L265 365.74L265.5 366.26L266 366.52L266.5 368.79L267 367.32L267.5 368.85L268 366.09L268.5 366.99L269 370.45L269.5 367.54L270 368.23L270.5 370.55L271 370.18L271.5 370.26L272 372.27L272.5 372.63L273 371.33L273.5 373.01L274 372.99L274.5 374.84L275 372.06L275.5 372.91L276 374.39L276.5 372.38L277 375.65L277.5 376.11L278 373.51L278.5 375.27L279 373.24L279.5 376.25L280 373.66L280.5 373.31L281 374.11L281.5 376.22L282 375.02L282.5 379.25L283 378.21L283.5 378.27L284 378.81L284.5 378.22L285 380.37L285.5 379.81L286 378.79L286.5 378.31L287 377.83L287.5 378.57L288 378.7L288.5 377.49L289 380.83L289.5 377.93L290 379L290.5 377.06L291 379.25L291.5 379.95L292 378.01L292.5 382.2L293 379.24L293.5 380.02L294 382.31L294.5 380.87L295 383.34L295.5 380.7L295.5 396.02L295 395.8L294.5 392.92L294 399.07L293.5 397.3L293 393.44L292.5 394.34L292 389.13L291.5 388.94L291 389.48L290.5 394.1L290 392.34L289.5 392.77L289 393.28L288.5 391.32L288 389L287.5 392.08L287 393.19L286.5 390.24L286 392.16L285.5 393.27L285 389.28L284.5 395.91L284 396.3L283.5 390.41L283 388L282.5 394.48L282 386.41L281.5 393.15L281 389.66L280.5 384.76L280 387.9L279.5 389.88L279 385.62L278.5 386.53L278 386.81L277.5 388.15L277 388.97L276.5 384.2L276 382.02L275.5 382.47L275 385.46L274.5 384.22L274 389.84L273.5 387.43L273 386.17L272.5 385.47L272 388.47L271.5 388.72L271 387.55L270.5 381.38L270 382.95L269.5 384.87L269 385.85L268.5 382.57L268 379.87L267.5 380.47L267 379.79L266.5 383.34L266 382.49L265.5 381.49L265 380.27L264.5 377.41L264 377.34L263.5 378.11L263 379.37L262.5 380.55L262 381.14L261.5 381.63L261 380.3L260.5 379.25L260 379.67L259.5 377.87L259 375.85L258.5 378.24L258 378.53L257.5 376.97L257 376.51L256.5 375.33L256 377.95L255.5 378.84L255 377.91L254.5 375.1L254 375.34L253.5 378.62L253 375.64L252.5 376.68L252 375.77L251.5 379.73L251 379.33L250.5 377.66L250 378.39L249.5 378.5L249 380.35L248.5 378.76L248 377.02L247.5 376.09L247 377.47L246.5 375.92L246 377.28L245.5 374.89L245 377.52L244.5 375.55L244 377.79L243.5 377.34L243 377.36L242.5 378.04L242 375.42L241.5 376.08L241 377.01L240.5 379.22L240 376.99L239.5 377.21L239 378.47L238.5 378.98L238 379.54L237.5 377.63L237 378.31L236.5 376.21L236 375.6L235.5 374.53L235 375.56L234.5 375.83L234 375.7L233.5 375.39L233 374.32L232.5 378.1L232 375.42L231.5 377.07L231 375.99L230.5 374.61L230 375.78L229.5 378.16L229 376.14L228.5 379.77L228 379.3L227.5 377.74L227 380.36L226.5 377.35L226 379.36L225.5 377.14L225 376.98L224.5 376.75L224 376.99L223.5 374.12L223 375.14L222.5 376.84L222 376.73L221.5 376.25L221 376.55L220.5 375.8L220 375.21L219.5 377.8L219 375.63L218.5 378.65L218 377.35L217.5 379.44L217 377.71L216.5 381.14L216 378.62L215.5 380.35L215 377.68L214.5 378.08L214 379.4L213.5 376.44L213 375.84L212.5 379.13L212 377.02L211.5 378.64L211 376.23L210.5 376.19L210 376.37L209.5 378.71L209 377.96L208.5 379.73L208 379.57L207.5 380.18L207 379.1L206.5 381.63L206 380.99L205.5 381.56L205 383.17L204.5 383.68L204 382.95L203.5 379.68L203 382.39L202.5 379.68L202 380.21L201.5 380.98L201 379.63L200.5 381.56L200 379.7L199.5 380.78L199 379.87L198.5 381.44L198 380.09L197.5 382.32L197 383.17L196.5 379.29L196 384.65L195.5 381.71L195 383.08L194.5 382.74L194 387.66L193.5 387.3L193 384.48L192.5 384.2L192 386.09L191.5 386.02L191 385.33L190.5 383.87L190 382.52L189.5 383.33L189 383.01L188.5 385.66L188 386.18L187.5 388.03L187 382.97L186.5 388.75L186 388.25L185.5 383.7L185 390.84L184.5 386.38L184 391.78L183.5 391.26L183 395.93L182.5 394.05L182 397.96L181.5 397.95L181 397.71L180.5 396.89L180 393.26L179.5 390.79L179 393.75L178.5 389.81L178 386.61L177.5 388.27L177 390.3L176.5 393.62L176 393.68L175.5 393.81L175 393.47L174.5 389.14L174 391.92L173.5 392.78L173 400.11L172.5 398.78L172 408.07L171.5 411.82L171 410.88L170.5 408.99L170 408.06L169.5 403.16L169 404.71L168.5 397.2L168 401.12L167.5 393.84L167 394.45L166.5 399.29L166 394.08L165.5 394.27L165 400.2L164.5 394.04L164 395.66L163.5 398.64L163 395.63L162.5 404.36L162 401.96L161.5 403.13L161 407.23L160.5 410.82L160 417.79L159.5 420.31L159 416.96L158.5 417.78L158 411.43L157.5 404.8L157 402.69L156.5 399.34L156 404.17L155.5 396.93L155 397.04L154.5 401.56L154 400.78L153.5 400.86L153 400.12L152.5 401.95L152 398.94L151.5 404.01L151 401.88L150.5 411.22L150 410.21L149.5 416.58L149 419.37L148.5 425.26L148 420.6L147.5 421.94L147 418.14L146.5 407.26L146 405.5L145.5 401.43L145 405L144.5 397.57L144 403.28L143.5 399.06L143 400.18L142.5 398.08L142 401.27L141.5 400.19L141 398.81L140.5 403.71L140 406.15L139.5 403.58L139 408.38L138.5 415.18L138 414.92L137.5 419.28L137 426.38L136.5 421.14L136 419.1L135.5 411.86L135 412.43L134.5 404.22L134 399.63L133.5 397.79L133 400.14L132.5 396.86L132 398.43L131.5 401.3L131 400.54L130.5 396.62L130 398.71L129.5 397L129 403.42L128.5 404.33L128 408.33L127.5 410.9L127 413.9L126.5 420.67L126 422.34L125.5 422.21L125 419.47L124.5 418.49L124 413.9L123.5 406.59L123 401.19L122.5 397.46L122 398.87L121.5 397.41L121 396.44L120.5 397.68L120 398.19L119.5 397.97L119 396.15L118.5 396.4L118 398.15L117.5 402.53L117 405.96L116.5 404.67L116 410.29L115.5 418.84L115 423.43L114.5 426.98L114 424.25L113.5 417.1L113 411.79L112.5 412.28L112 407.6L111.5 404.69L111 401.03L110.5 402.37L110 399.19L109.5 401.84L109 397.52L108.5 397.47L108 395.79L107.5 402.1L107 396.48L106.5 397.88L106 404.63L105.5 407.11L105 410.76L104.5 414.29L104 414.93L103.5 424.32L103 424.34L102.5 425.05L102 419.64L101.5 408.3L101 410.46L100.5 405.95L100 403.25L99.5 398.19L99 402.86L98.5 400.73L98 397.76L97.5 402.26L97 402.92L96.5 399.06L96 397.93L95.5 399.44L95 399.66L94.5 401.64L94 409.3L93.5 413.81L93 416.26L92.5 418.14L92 427.37L91.5 423.48L91 422.13L90.5 412.91L90 410.75L89.5 401.63L89 398.04L88.5 402.03L88 401.15L87.5 402.19L87 399.4L86.5 401.45L86 400.77L85.5 399.06L85 400.45L84.5 398.02L84 399.88L83.5 399.51L83 403L82.5 411.38L82 412.89L81.5 420.17L81 423.96L80.5 428.08L80 425.05L79.5 416.02L79 414.31L78.5 411.47L78 403.26L77.5 403.03L77 395.05L76.5 397.3L76 401.92L75.5 401.21L75 398.37L74.5 397.45L74 400L73.5 399.09L73 397.2L72.5 400.11L72 401.64L71.5 407.73L71 408.38L70.5 415.56L70 415.9L69.5 420.55L69 423.89L68.5 423.69L68 414.16L67.5 413.62L67 406.71L66.5 401.55L66 402.28L65.5 396.81L65 396.62L64.5 395.49L64 399.78L63.5 400.76L63 395.85L62.5 399.43L62 397.29L61.5 397.58L61 396.2L60.5 403.58L60 406.74L59.5 409.27L59 410.53Z" fill="#ff560c"/>
<path d="M59 347.06V343.65M59.5 350.12V345.2M60 343.24V340.96M60.5 342.78V339.77M61 342.61V340.05M61.5 339.73V337.46M62 339.45V334.78M62.5 334.24V331.92M63 332.31V330.5M63.5 331.22V330.5M64 332.14V330.5M64.5 330.37V330.5M65 331.58V330.5M65.5 333.92V330.5M66 333.16V330.89M66.5 336.85V334.01M67 334.48V331.79M67.5 338.86V330.5M68 341.9V338.78M68.5 342.65V340.53M69 340.84V336.53M69.5 343.63V336.11M70 339.25V330.5M70.5 339.72V330.5M71 340.7V332.5M71.5 341.09V335.11M72 342.86V337.67M72.5 340.36V336.01M73 337.42V334.72M73.5 340.45V337.83M74 336.39V334.11M74.5 338.97V333.24M75 333.64V330.5M75.5 333.26V330.5M76 332.09V330.5M76.5 333.63V330.5M77 336.61V334.41M77.5 336.18V333.18M78 336.49V332.5M78.5 341.14V332.25M79 343.13V341.08M79.5 340.15V337.5M80 342.54V340.16M80.5 340.73V334.38M81 340.7V335.37M81.5 342.97V336.32M82 342.55V337.05M82.5 346.16V340.22M83 340.99V334.11M83.5 344.66V342.34M84 344.83V341.76M84.5 342.27V332.24M85 341.78V339.5M85.5 338.98V334.36M86 337.64V335.31M86.5 335.28V332.8M87 339.76V336.66M87.5 334.58V330.5M88 336.06V330.5M88.5 340.97V337.94M89 341V333.18M89.5 342.89V337.01M90 342.89V334.02M90.5 343.12V337.13M91 347.66V344.25M91.5 344.1V335.29M92 345.57V342.02M92.5 348.51V342.26M93 345.97V341.74M93.5 350.06V343.18M94 345.52V341.79M94.5 347.66V345.44M95 347.58V338.38M95.5 346.95V342.06M96 347.87V343.89M96.5 342.45V340.38M97 344.17V332.34M97.5 344.37V339.1M98 339.01V330.5M98.5 341.69V339.01M99 341.52V333.58M99.5 342.45V336.5M100 344.84V334.15M100.5 346.96V344.66M101 348.88V343.68M101.5 351.18V342.38M102 350.53V346.51M102.5 353.1V347.15M103 351.41V348.9M103.5 349.31V347.31M104 348.67V345.84M104.5 348.3V345.94M105 349.53V346.01M105.5 348.63V342.11M106 351.88V344.56M106.5 351.58V348.65M107 350.5V346.5M107.5 348.16V345.94M108 347.38V340.12M108.5 344.75V334.61M109 347.44V343.77M109.5 341.22V333.92M110 342.95V340.89M110.5 345.12V334.71M111 344.03V341.25M111.5 349.64V344.8M112 348.96V342.39M112.5 349.64V347.21M113 348.79V343.94M113.5 350.77V347.84M114 353.05V350.92M114.5 351.59V346.83M115 350.27V345.08M115.5 353.56V350.33M116 351.98V348.72M116.5 355.27V352.43M117 354.29V352.14M117.5 354.26V349.61M118 354.84V351.62M118.5 353.6V351.58M119 349.62V346.38M119.5 349.71V347.52M120 346.46V342.31M120.5 345V341.93M121 344.49V340.36M121.5 344.12V341.1M122 345.82V342.95M122.5 347.16V345.12M123 351.45V348.33M123.5 350.42V346.02M124 350.39V348.32M124.5 353.51V349.16M125 352.75V346.99M125.5 356.03V352.35M126 353.53V350.08M126.5 355.63V352.11M127 353.43V348.67M127.5 355.33V350.46M128 357.65V353.05M128.5 354.16V348.06M129 355.22V352.47M129.5 354.13V350.72M130 351.02V347.17M130.5 349.51V342.11M131 353.04V350.25M131.5 348.71V342.41M132 349.87V347.76M132.5 347.98V345.41M133 351.04V343.09M133.5 348.34V340.17M134 351.61V349.36M134.5 353.59V349.17M135 356.45V351.38M135.5 352.94V350.61M136 355.67V353.17M136.5 356.81V351.74M137 357.79V355.56M137.5 355.35V351.01M138 357.85V355.8M138.5 358.83V355.05M139 359.11V356.08M139.5 356.02V353.88M140 357.16V345.84M140.5 355.91V352.2M141 355.76V351.59M141.5 354.59V351.57M142 356.77V351.13M142.5 349.78V344.12M143 354.18V349.46M143.5 348.02V342.61M144 348.34V345.55M144.5 349.91V347.89M145 351.74V345.8M145.5 356.76V349.91M146 358.2V352.18M146.5 360.03V355.07M147 357.69V355.29M147.5 356.06V351.39M148 360.11V357.03M148.5 362.09V359.96M149 357.44V355.35M149.5 361.85V357.15M150 356.96V352.79M150.5 361.35V358.29M151 359.82V354.97M151.5 362.05V355.41M152 361.33V355.44M152.5 355.52V352.81M153 357.06V350.14M153.5 354.13V349.53M154 353.94V348.89M154.5 350.66V348.43M155 352.01V348.94M155.5 352.64V349.85M156 351.25V347.69M156.5 355.54V349.53M157 359.65V355.02M157.5 356.07V344.47M158 362.49V348.2M158.5 360.54V355.85M159 359.37V355.6M159.5 364.22V359.34M160 361.5V350.21M160.5 361.36V358.48M161 361.06V358.41M161.5 364.13V360.73M162 359.59V349.62M162.5 359.93V354.34M163 360.01V353.64M163.5 358.05V355.67M164 361.76V357.01M164.5 358.34V356.11M165 357.6V350.05M165.5 358.02V355.87M166 354.86V346.93M166.5 353.43V351.26M167 355.6V353.58M167.5 356.66V351.76M168 357.01V354.84M168.5 358.16V352.62M169 360.23V358.18M169.5 363.47V356.61M170 360.71V356.93M170.5 366.1V361.46M171 361.91V359.9M171.5 362.21V360.05M172 361.39V359.02M172.5 363.06V360M173 362.95V359.52M173.5 364.75V351.91M174 365.81V360.8M174.5 361.47V355.54M175 364.06V360.35M175.5 359.94V357.14M176 359.17V350.75M176.5 356.1V348.48M177 359.55V355.92M177.5 355.87V351.65M178 358.03V348.78M178.5 354.9V352.15M179 360.33V357.94M179.5 359.09V350.75M180 361.92V359.3M180.5 364.41V362.11M181 362.2V359.56M181.5 364.85V362.36M182 367.01V360.79M182.5 363.23V359.96M183 365.1V361.5M183.5 363.43V360.57M184 363.2V347.6M184.5 365.23V361.61M185 364.88V353.98M185.5 365.58V361.3M186 366.2V360.91M186.5 364.36V362.05M187 360.97V358.79M187.5 360.62V357.44M188 360.63V352.39M188.5 360.92V357.48M189 359.85V353.93M189.5 359.24V356.89M190 357.95V355.8M190.5 363.43V360.53M191 361.13V355.77M191.5 362.73V360M192 365.94V361.59M192.5 362.69V360.38M193 366.51V359.76M193.5 363.12V358.25M194 362.5V356.62M194.5 364.48V362.14M195 365.68V361.83M195.5 363.85V358.66M196 365.6V363.04M196.5 363.59V360.88M197 365.02V359.82M197.5 362.04V359.8M198 362.36V359.9M198.5 361.46V357.49M199 363.23V360.19M199.5 362.15V358.66M200 362.69V360.12M200.5 361.4V358.46M201 362.99V360.57M201.5 363.99V361.67M202 361.5V358.25M202.5 362.47V359.99M203 364.35V362.12M203.5 364.43V361.59M204 364.56V361.99M204.5 362.62V360.27M205 363.66V361.53M205.5 362.16V358.59M206 363.18V357.13M206.5 363.59V357.31M207 362.56V360.41M207.5 363V359.71M208 362.72V357.29M208.5 361.69V358.06M209 361.42V358.16M209.5 363.36V360.89M210 360.6V358.18M210.5 363.35V360.28M211 362.82V360.14M211.5 362.97V358.08M212 362.35V359.95M212.5 360.04V356.87M213 360.64V357.43M213.5 361.55V357.79M214 361.35V358.11M214.5 361.13V357.98M215 363.97V359.22M215.5 364.03V360.68M216 363.62V360.91M216.5 362.01V357.69M217 363.93V358.48M217.5 363.82V361.26M218 362.22V359.4M218.5 361.56V358.84M219 361.54V353.24M219.5 362.33V358.71M220 363.56V359.47M220.5 360.89V357.86M221 361.77V359.08M221.5 361.22V357.43M222 362.71V359.57M222.5 360.1V356.85M223 361.72V357.83M223.5 360.73V356.76M224 362.03V358.84M224.5 362.91V357.96M225 363.21V359.78M225.5 363.53V361.34M226 361.87V357.9M226.5 361.93V355.89M227 361.48V358.84M227.5 361.98V357.18M228 361.52V358.98M228.5 363.75V360.88M229 361.27V359M229.5 361.74V359.74M230 363.73V361.38M230.5 363.6V359.67M231 364.18V358.19M231.5 362.01V358.72M232 360.62V356.45M232.5 362.93V360.07M233 360.85V358.06M233.5 362.27V358.86M234 359.56V357.13M234.5 359.63V354.48M235 361.74V359.72M235.5 362.3V359.2M236 362.18V358.83M236.5 362.35V359.14M237 362.8V360.19M237.5 361.33V358.38M238 361.19V356.62M238.5 362.23V359.04M239 362.97V358.27M239.5 361.92V354.61M240 361.67V354.55M240.5 362.6V359.25M241 362.45V360.17M241.5 361.91V357.86M242 364.16V361.5M242.5 364.09V360.82M243 360.71V357.47M243.5 361.99V359.76M244 360.83V355.57M244.5 360.89V358.85M245 359.59V356.71M245.5 359.7V356.85M246 359.61V357.59M246.5 360.15V357.73M247 362.32V357.31M247.5 360.56V356.64M248 363.73V361.71M248.5 363.62V360.72M249 361.82V358.27M249.5 363.43V361.01M250 364.44V361.84M250.5 361.53V359.33M251 363.27V360.92M251.5 363.04V358.62M252 362.59V359.52M252.5 362.6V359.62M253 361.94V359.53M253.5 364.02V360.83M254 362.33V360.07M254.5 363.06V360.23M255 364.77V360.34M255.5 362.45V360.15M256 362.2V358.99M256.5 364.46V362.44M257 363.28V359.18M257.5 363.49V360.8M258 362.57V358.59M258.5 364.56V362.32M259 363.99V361.86M259.5 364.96V357.47M260 364.71V359.79M260.5 363.74V361.08M261 366.93V363.56M261.5 366.4V364.03M262 367.53V364.44M262.5 365.46V361.01M263 365.76V362.21M263.5 365.59V362.27M264 366.6V359.99M264.5 367V364.21M265 366.74V364.39M265.5 367.26V365.16M266 367.52V363.85M266.5 369.79V367.04M267 368.32V363.48M267.5 369.85V367.63M268 367.09V360.62M268.5 367.99V365.19M269 371.45V366.65M269.5 368.54V366.3M270 369.23V366.65M270.5 371.55V369.21M271 371.18V367.87M271.5 371.26V367.04M272 373.27V370.73M272.5 373.63V370.42M273 372.33V370.01M273.5 374.01V368.77M274 373.99V371.28M274.5 375.84V372.64M275 373.06V370.61M275.5 373.91V370.83M276 375.39V371.49M276.5 373.38V370.51M277 376.65V371.8M277.5 377.11V374.27M278 374.51V371.86M278.5 376.27V372.67M279 374.24V367.98M279.5 377.25V372.88M280 374.66V368.91M280.5 374.31V371.47M281 375.11V371.61M281.5 377.22V374.26M282 376.02V365.45M282.5 380.25V372.85M283 379.21V376.37M283.5 379.27V375.53M284 379.81V376.37M284.5 379.22V376.47M285 381.37V379.1M285.5 380.81V376.51M286 379.79V377.76M286.5 379.31V372.69M287 378.83V376.57M287.5 379.57V375.62M288 379.7V377.64M288.5 378.49V373.78M289 381.83V375.63M289.5 378.93V376.39M290 380V375.02M290.5 378.06V375.36M291 380.25V377.68M291.5 380.95V375.3M292 379.01V376.76M292.5 383.2V377.1M293 380.24V377.38M293.5 381.02V375.94M294 383.31V379.86M294.5 381.87V379.58M295 384.34V381.83M295.5 381.7V379.33" fill="none" stroke="#ff6a28" stroke-width="0.5" stroke-opacity="0.8"/>
<path d="M59 409.53V420.95M59.5 408.27V428.79M60 405.74V409.34M60.5 402.58V405.01M61 395.2V400.08M61.5 396.58V398.78M62 396.29V407.01M62.5 398.43V402.04M63 394.85V410.13M63.5 399.76V404.9M64 398.78V411.02M64.5 394.49V403.25M65 395.62V412.27M65.5 395.81V430.02M66 401.28V418.83M66.5 400.55V411.92M67 405.71V410.72M67.5 412.62V430.71M68 413.16V419.31M68.5 422.69V433.45M69 422.89V428.97M69.5 419.55V454.95M70 414.9V422.98M70.5 414.56V429.58M71 407.38V409.78M71.5 406.73V409.65M72 400.64V425.8M72.5 399.11V405.55M73 396.2V399.38M73.5 398.09V400.19M74 399V402.81M74.5 396.45V398.99M75 397.37V399.85M75.5 400.21V407.25M76 400.92V407.88M76.5 396.3V398.65M77 394.05V399.21M77.5 402.03V404.57M78 402.26V407.91M78.5 410.47V425.75M79 413.31V427.05M79.5 415.02V419.34M80 424.05V434.11M80.5 427.08V438.34M81 422.96V426.84M81.5 419.17V421.88M82 411.89V456.25M82.5 410.38V422.24M83 402V440.85M83.5 398.51V403.07M84 398.88V423.47M84.5 397.02V420.46M85 399.45V403.55M85.5 398.06V407.04M86 399.77V417.54M86.5 400.45V413.98M87 398.4V410.56M87.5 401.19V405.94M88 400.15V409.21M88.5 401.03V406.29M89 397.04V401.32M89.5 400.63V402.95M90 409.75V413.18M90.5 411.91V414.52M91 421.13V424.26M91.5 422.48V434.52M92 426.37V433.02M92.5 417.14V426.9M93 415.26V418.57M93.5 412.81V454.79M94 408.3V410.95M94.5 400.64V423.9M95 398.66V407.21M95.5 398.44V403.66M96 396.93V407.54M96.5 398.06V403.3M97 401.92V407.44M97.5 401.26V409.52M98 396.76V401.86M98.5 399.73V404.07M99 401.86V406.76M99.5 397.19V403.5M100 402.25V405.76M100.5 404.95V409.72M101 409.46V426.53M101.5 407.3V412.45M102 418.64V425.26M102.5 424.05V430.92M103 423.34V431.89M103.5 423.32V431.47M104 413.93V417.59M104.5 413.29V420.04M105 409.76V421.93M105.5 406.11V425.18M106 403.63V406.78M106.5 396.88V399.07M107 395.48V406.68M107.5 401.1V406.93M108 394.79V397.68M108.5 396.47V443.26M109 396.52V401.14M109.5 400.84V410.34M110 398.19V417.76M110.5 401.37V426.32M111 400.03V402.74M111.5 403.69V407.88M112 406.6V411.57M112.5 411.28V414.98M113 410.79V433.6M113.5 416.1V425.23M114 423.25V427.19M114.5 425.98V431.08M115 422.43V432.65M115.5 417.84V431.22M116 409.29V411.34M116.5 403.67V426.72M117 404.96V408.82M117.5 401.53V406.59M118 397.15V400.73M118.5 395.4V407.28M119 395.15V406.34M119.5 396.97V404.45M120 397.19V402.65M120.5 396.68V414.97M121 395.44V445.72M121.5 396.41V405.16M122 397.87V403.92M122.5 396.46V403.47M123 400.19V405.22M123.5 405.59V411.95M124 412.9V416.51M124.5 417.49V425.44M125 418.47V435.63M125.5 421.21V437.22M126 421.34V425.31M126.5 419.67V435.2M127 412.9V414.99M127.5 409.9V419.43M128 407.33V409.67M128.5 403.33V406.08M129 402.42V407.95M129.5 396V411.36M130 397.71V405.04M130.5 395.62V400.04M131 399.54V410M131.5 400.3V404.46M132 397.43V401.52M132.5 395.86V400.24M133 399.14V406.18M133.5 396.79V415.58M134 398.63V404.02M134.5 403.22V409.16M135 411.43V413.58M135.5 410.86V427.31M136 418.1V420.9M136.5 420.14V428.53M137 425.38V442.91M137.5 418.28V422.28M138 413.92V430.56M138.5 414.18V422.91M139 407.38V409.46M139.5 402.58V406.46M140 405.15V418.98M140.5 402.71V405.63M141 397.81V400.78M141.5 399.19V403.48M142 400.27V441.96M142.5 397.08V402.87M143 399.18V404.88M143.5 398.06V410.92M144 402.28V411.44M144.5 396.57V406.51M145 404V407.87M145.5 400.43V413.64M146 404.5V424.83M146.5 406.26V413.89M147 417.14V426.3M147.5 420.94V432.93M148 419.6V427.6M148.5 424.26V426.32M149 418.37V421.87M149.5 415.58V438.04M150 409.21V422.61M150.5 410.22V429.71M151 400.88V420.21M151.5 403.01V413.26M152 397.94V419.06M152.5 400.95V405.82M153 399.12V407.47M153.5 399.86V407.98M154 399.78V411.23M154.5 400.56V413.95M155 396.04V398.98M155.5 395.93V407.3M156 403.17V430.47M156.5 398.34V415.73M157 401.69V408.73M157.5 403.8V423.35M158 410.43V416.15M158.5 416.78V426.19M159 415.96V421.03M159.5 419.31V444.75M160 416.79V424.22M160.5 409.82V418.74M161 406.23V413.4M161.5 402.13V411.05M162 400.96V419.49M162.5 403.36V416.87M163 394.63V409.43M163.5 397.64V419.3M164 394.66V408.63M164.5 393.04V410.22M165 399.2V406.57M165.5 393.27V397.12M166 393.08V397.07M166.5 398.29V420.77M167 393.45V398.4M167.5 392.84V402.37M168 400.12V404.04M168.5 396.2V415.81M169 403.71V429.36M169.5 402.16V418.47M170 407.06V409.85M170.5 407.99V415.54M171 409.88V416.92M171.5 410.82V420.2M172 407.07V411.37M172.5 397.78V404.11M173 399.11V412.34M173.5 391.78V424.26M174 390.92V403.67M174.5 388.14V408.52M175 392.47V398.87M175.5 392.81V402.17M176 392.68V416.72M176.5 392.62V394.74M177 389.3V393.35M177.5 387.27V389.3M178 385.61V388.44M178.5 388.81V391.68M179 392.75V397.27M179.5 389.79V395.53M180 392.26V400.36M180.5 395.89V404.3M181 396.71V408.09M181.5 396.95V423.34M182 396.96V404.43M182.5 393.05V409.08M183 394.93V397.09M183.5 390.26V418.68M184 390.78V401.05M184.5 385.38V405.46M185 389.84V393.52M185.5 382.7V415.68M186 387.25V392.42M186.5 387.75V390.79M187 381.97V388.98M187.5 387.03V394.57M188 385.18V388.9M188.5 384.66V397.97M189 382.01V386.65M189.5 382.33V387.89M190 381.52V384.06M190.5 382.87V386.62M191 384.33V405.04M191.5 385.02V391.5M192 385.09V391.9M192.5 383.2V393.35M193 383.48V387.84M193.5 386.3V388.32M194 386.66V389.5M194.5 381.74V384.64M195 382.08V387.91M195.5 380.71V384.13M196 383.65V388.64M196.5 378.29V380.42M197 382.17V385.37M197.5 381.32V383.73M198 379.09V385.37M198.5 380.44V386.43M199 378.87V387.2M199.5 379.78V382.03M200 378.7V385.72M200.5 380.56V387.78M201 378.63V393.25M201.5 379.98V382.75M202 379.21V383.57M202.5 378.68V381.4M203 381.39V387.78M203.5 378.68V383.27M204 381.95V385.45M204.5 382.68V390.6M205 382.17V384.66M205.5 380.56V383.19M206 379.99V383.29M206.5 380.63V387.26M207 378.1V381.15M207.5 379.18V382.35M208 378.57V381.47M208.5 378.73V381.12M209 376.96V382.45M209.5 377.71V379.79M210 375.37V377.92M210.5 375.19V378.51M211 375.23V381.01M211.5 377.64V381.63M212 376.02V379.11M212.5 378.13V381.72M213 374.84V387.75M213.5 375.44V381.8M214 378.4V389.39M214.5 377.08V379.56M215 376.68V380.6M215.5 379.35V383.17M216 377.62V382.46M216.5 380.14V385.43M217 376.71V384.76M217.5 378.44V384.43M218 376.35V387.69M218.5 377.65V380.16M219 374.63V383.34M219.5 376.8V387.74M220 374.21V377.11M220.5 374.8V377.55M221 375.55V380.59M221.5 375.25V377.4M222 375.73V384.2M222.5 375.84V378.57M223 374.14V379.03M223.5 373.12V376.28M224 375.99V384.42M224.5 375.75V385.34M225 375.98V381.28M225.5 376.14V379.3M226 378.36V382.71M226.5 376.35V382.09M227 379.36V394.86M227.5 376.74V382.12M228 378.3V386.55M228.5 378.77V384.63M229 375.14V384.51M229.5 377.16V379.21M230 374.78V378.62M230.5 373.61V380.5M231 374.99V377.39M231.5 376.07V378.5M232 374.42V385.34M232.5 377.1V386.49M233 373.32V376.72M233.5 374.39V377.38M234 374.7V381.78M234.5 374.83V379.78M235 374.56V378.65M235.5 373.53V383.96M236 374.6V379M236.5 375.21V386.8M237 377.31V393.25M237.5 376.63V381.95M238 378.54V381.55M238.5 377.98V384.79M239 377.47V379.56M239.5 376.21V378.41M240 375.99V378.94M240.5 378.22V387.67M241 376.01V388.43M241.5 375.08V378.6M242 374.42V377.47M242.5 377.04V384.55M243 376.36V380.9M243.5 376.34V382.2M244 376.79V382.15M244.5 374.55V379.52M245 376.52V380.65M245.5 373.89V376.25M246 376.28V378.65M246.5 374.92V379.15M247 376.47V380.43M247.5 375.09V380.84M248 376.02V381.99M248.5 377.76V381.94M249 379.35V384.74M249.5 377.5V380.39M250 377.39V380.18M250.5 376.66V379.26M251 378.33V381.74M251.5 378.73V383.07M252 374.77V379.58M252.5 375.68V379.17M253 374.64V382.63M253.5 377.62V386.44M254 374.34V380.84M254.5 374.1V379.25M255 376.91V382.86M255.5 377.84V380.95M256 376.95V382.76M256.5 374.33V377.48M257 375.51V378.03M257.5 375.97V379.41M258 377.53V380.03M258.5 377.24V391.58M259 374.85V395.12M259.5 376.87V381.96M260 378.67V381.31M260.5 378.25V380.68M261 379.3V382.71M261.5 380.63V393.17M262 380.14V387.2M262.5 379.55V387.14M263 378.37V381.89M263.5 377.11V384.64M264 376.34V378.53M264.5 376.41V389.69M265 379.27V382.44M265.5 380.49V385.41M266 381.49V393.87M266.5 382.34V389.44M267 378.79V381.94M267.5 379.47V381.52M268 378.87V392.06M268.5 381.57V383.74M269 384.85V406.34M269.5 383.87V394.75M270 381.95V385.11M270.5 380.38V391.81M271 386.55V391.42M271.5 387.72V391.57M272 387.47V403.71M272.5 384.47V387.4M273 385.17V390.84M273.5 386.43V394.7M274 388.84V395.25M274.5 383.22V386.71M275 384.46V398.72M275.5 381.47V383.82M276 381.02V410.08M276.5 383.2V392.88M277 387.97V405.68M277.5 387.15V393.5M278 385.81V391.42M278.5 385.53V391.01M279 384.62V398.77M279.5 388.88V394.53M280 386.9V393.97M280.5 383.76V389.65M281 388.66V390.72M281.5 392.15V398.32M282 385.41V392.07M282.5 393.48V403.45M283 387V396.43M283.5 389.41V398.75M284 395.3V399.79M284.5 394.91V397.28M285 388.28V396.93M285.5 392.27V397.43M286 391.16V399M286.5 389.24V393.83M287 392.19V401.29M287.5 391.08V416.38M288 388V400.87M288.5 390.32V400.73M289 392.28V403.09M289.5 391.77V400.34M290 391.34V395.46M290.5 393.1V406.66M291 388.48V400.38M291.5 387.94V390.37M292 388.13V391.17M292.5 393.34V395.87M293 392.44V394.49M293.5 396.3V412.9M294 398.07V406.56M294.5 391.92V437.85M295 394.8V416.48M295.5 395.02V404.45" fill="none" stroke="#ff6a28" stroke-width="0.5" stroke-opacity="0.75"/>
<path d="M59 377.52V384.18M61.5 345.52V388.61M64 345.54V378.41M66.5 352.46V376.4M69 367.05V401.14M71.5 370.53V397.45M74 358.06V394.93M76.5 356.95V371.12M79 353.38V409.81M81.5 365.7V388.4M84 377.56V392.6M86.5 351.85V370.57M89 370.06V383.81M91.5 363.42V387.43M94 365.03V400.27M96.5 365.77V392.76M99 346.11V375.86M101.5 358.79V377.36M104 354.69V400.95M106.5 371.99V379M109 373.2V371.04M111.5 376.94V392.88M114 360.39V408.69M116.5 367.62V382.03M119 354.45V384.03M121.5 369.28V391.57M124 366.22V377.55M126.5 365.55V415.76M129 363.21V363.94M131.5 385.68V367.52M134 369.89V381.75M136.5 395.46V386.71M139 370.96V405.81M141.5 362.21V377.69M144 375.98V389.14M146.5 395.51V395.23M149 362.99V383.58M151.5 395.53V402.48M154 376.43V366.29M156.5 390.71V396.19M159 396.22V389.87M161.5 380.2V391.7M164 398.4V374.58M166.5 359.65V362.28M169 376.98V372.81M171.5 378.94V407.86M174 374.62V379.71M176.5 374.45V374.1M179 389.43V365.08M181.5 368.19V397.73M184 381.44V357.23M186.5 384.38V355.08M189 366.71V344.76M191.5 387.41V377.92M194 371.61V379.13M196.5 385.42V345.98M199 385.1V359.28M201.5 392.94V371.17M204 400.96V382.27M206.5 399.63V372.96M209 380.51V350.96M211.5 372.48V349.33M214 370.04V365.23M216.5 392.47V344.44M219 390.94V355.24M221.5 391.98V355.55M224 394.37V361.2M226.5 383.53V361.22M229 396.17V361.78M231.5 387.3V344.08M234 383.82V358.09M236.5 394.84V366.95M239 388.05V361.06M241.5 391.63V339.05M244 397.02V352.23M246.5 374.97V371.72M249 390.87V363.59M251.5 373.98V361.07M254 380.79V374.78M256.5 398.4V336.87M259 401.93V339.21M261.5 403.3V377.57M264 395.9V355.25M266.5 402.73V370.84M269 405.83V377.38M271.5 394.65V377.75M274 382.73V387.7M276.5 373.09V356.67M279 403.69V370.95M281.5 406.63V365.16M284 408.05V363.68M286.5 401.52V367.33M289 407.15V379.53M291.5 408.69V383.34M294 403.57V373.01" fill="none" stroke="#b5552e" stroke-width="0.35" stroke-opacity="0.35"/>
<path d="M62.07 358.03V386.71M63.25 358.14V397.51M65.84 371.31V383.73M68.27 358.49V406.94M71.99 348.36V371.91M82.08 359.47V378.51M84.86 360.82V384.59M87.12 342.59V378.79M93.13 347.68V394.59M94.06 372.5V395.03M96.22 376.49V386.08M99.98 376.91V397.26M100.71 360.55V383.54M109.25 358.7V379.31M112.04 377.84V403.37M115.07 392.9V416.14M117.06 364.46V397.7M123.72 383.94V408.45M126.87 379.25V411.87M130.75 354.57V374.55M136.09 372.33V418.68M137.21 355.87V400.68M138.1 371.2V401.44M140.19 371.24V388.06M140.9 376.34V389.74M142.72 360.29V387M146.95 380.33V392.18M148.8 383.53V414.23M150.88 373.29V390.04M151.84 375.27V395.08M152.81 367.99V394.66M154.11 370.06V392.7M156.06 365.36V378.83M157.19 382.56V397.1M158.29 364.07V392.05M158.84 389.05V411.59M160.26 384.44V408.12M161.16 361.35V390.39M163.04 374.82V391.9M165.28 365.54V378.07M166.01 366.11V390.55M166.72 366.98V396.54M168.77 377.28V399.66M169.89 373.94V402.62M172.12 377.99V394.27M173.04 367.02V397.99M174.11 365.02V383.25M175.71 372.71V382.19M177.85 374.61V383.11M183.03 365.46V392.47M184.09 377.99V387.9M185.96 370.39V385.83M189.83 367.34V372.36M190.89 364.54V384.57M199.16 369.47V379.58M201.13 366.89V375.43M202.85 371.74V381.04M206.27 365.55V372.3M208.73 364.24V372.4M226.84 367.67V372.58M239.96 361.72V373.47M247.18 370.21V376.58" fill="none" stroke="#4a7fb8" stroke-width="0.5" stroke-opacity="0.55"/>
<path d="M68.48 331V350M78.46 331V350M88.44 331V350M98.42 331V350M108.4 331V350M118.38 331V350M128.36 331V350M138.34 331V350M148.32 331V350M158.3 331V350M168.28 331V350M178.26 331V350" fill="none" stroke="#1c8ed6" stroke-width="0.6" stroke-opacity="0.45"/>
<path d="M67.88 385V410M77.86 385V410M87.84 385V410M97.82 385V410M107.8 385V410M117.78 385V410M127.76 385V410M137.74 385V410M147.72 385V410M157.7 385V410M167.68 385V410M177.66 385V410" fill="none" stroke="#1c8ed6" stroke-width="0.6" stroke-opacity="0.45"/>
<path d="M67.08 345V395M77.06 345V395M87.04 345V395M97.02 345V395M107 345V395M116.98 345V395M126.96 345V395M136.94 345V395M146.92 345V395M156.9 345V395M166.88 345V395M176.86 345V395" fill="none" stroke="#3a6fa8" stroke-width="0.7" stroke-opacity="0.3"/>
<path d="M69.2 405V460M80.5 405V461M91.8 405V458.7M103.1 405V451.6M114.4 405V456.3M125.7 405V449.2M137 405V456.3M148.3 405V448M159.6 405V452M170.9 405V467M182.2 405V440" fill="none" stroke="#ff6a2a" stroke-width="0.9" stroke-opacity="0.85"/>
<path d="M67 405V426.71M78.3 405V449M89.6 405V429.49M100.9 405V427.63M112.2 405V440.78M123.5 405V416.83M134.8 405V433.08M146.1 405V436.95M157.4 405V432.6M168.7 405V439.94M180 405V408.73" fill="none" stroke="#ff8a5a" stroke-width="0.7" stroke-opacity="0.6"/>
<line x1="182.7" y1="395" x2="182.7" y2="439" stroke="#ff560c" stroke-width="0.9" stroke-opacity="0.8"/>
<line x1="205" y1="382" x2="205" y2="395" stroke="#ff560c" stroke-width="0.9" stroke-opacity="0.8"/>
<line x1="225" y1="380" x2="225" y2="392" stroke="#ff560c" stroke-width="0.9" stroke-opacity="0.8"/>
<line x1="262" y1="382" x2="262" y2="398" stroke="#ff560c" stroke-width="0.9" stroke-opacity="0.8"/>
<line x1="272" y1="385" x2="272" y2="405" stroke="#ff560c" stroke-width="0.9" stroke-opacity="0.8"/>
<line x1="279" y1="388" x2="279" y2="410" stroke="#ff560c" stroke-width="0.9" stroke-opacity="0.8"/>
<line x1="284.6" y1="390" x2="284.6" y2="416" stroke="#ff560c" stroke-width="0.9" stroke-opacity="0.8"/>
<line x1="290" y1="390" x2="290" y2="404" stroke="#ff560c" stroke-width="0.9" stroke-opacity="0.8"/>
<line x1="293.5" y1="392" x2="293.5" y2="408" stroke="#ff560c" stroke-width="0.9" stroke-opacity="0.8"/>
<line x1="61" y1="345" x2="61" y2="336" stroke="#ff560c" stroke-width="0.8"/>
<line x1="63" y1="345" x2="63" y2="329.5" stroke="#ff560c" stroke-width="0.8"/>
<line x1="64.5" y1="345" x2="64.5" y2="331" stroke="#ff560c" stroke-width="0.8"/>
<line x1="66.5" y1="345" x2="66.5" y2="333" stroke="#ff560c" stroke-width="0.8"/>
</g>
<polyline points="56.7,481.7 69.2,481.7 69.2,478.8 71,478.8 73.2,476.8 82.2,476.8 82.2,472.8 90.5,472.8 90.5,469.2 103.5,469.2 103.5,465.7 113,465.7 113,463 126,463 126,459.4 148.4,459.4 148.4,455.6 160.2,455.6 160.2,452.6 173.5,452.6 173.5,452.6 174.62,452.6 174.62,449.45 174.62,449.45 175.75,449.45 175.75,446.3 175.75,446.3 176.88,446.3 176.88,443.15 176.88,443.15 178,443.15 178,440 178,440 179,440 179,437 179,437 180,437 180,434 180,434 181,434 181,431 181,431 182,431 182,428 182,428 183,428 183,425.33 183,425.33 184,425.33 184,422.67 184,422.67 185,422.67 185,420 185,420 186.12,420 186.12,417.38 186.12,417.38 187.25,417.38 187.25,414.75 187.25,414.75 188.38,414.75 188.38,412.12 188.38,412.12 189.5,412.12 189.5,409.5 189.5,409.5 190.87,409.5 190.87,406.33 190.87,406.33 192.23,406.33 192.23,403.17 192.23,403.17 193.6,403.17 193.6,400 193.6,400 195.2,400 195.2,397 195.2,397 196.8,397 196.8,394 196.8,394 198.4,394 198.4,391 198.4,391 200,391 200,388 200,388 202,388 202,384.67 202,384.67 204,384.67 204,381.33 204,381.33 206,381.33 206,378 206,378 208,378 208,375 208,375 210,375 210,372 210,372 212,372 212,369 212,369 214,369 214,366.33 214,366.33 216,366.33 216,363.67 216,363.67 218,363.67 218,361 218,361 221,361 221,357.5 221,357.5 224,357.5 224,354 224,354 227,354 227,350.25 227,350.25 230,350.25 230,346.5 230,346.5 234.1,346.5 234.1,341.5 234.1,341.5 237.5,341.5 237.5,337 237.5,337 241,337 241,332.6 241,332.6 246.4,332.6 246.4,328.8 251.9,328.8 254.6,328.8 254.6,332 257.4,332 257.4,335.5 260,335.5 260,340.3 262.9,340.3 262.9,345.1 265.2,345.1 265.2,349.5 267.7,349.5 267.7,354 270,354 270,357.2 272.5,357.2 272.5,360.2 275,360.2 275,364 277.3,364 277.3,367 279.5,367 279.5,363.8 282,363.8 282,360.9 284,360.9 284,358 286.2,358 286.2,355.4 288,355.4 288.9,352.6 289.8,355.4 291.6,355.4 291.6,358.2 295.7,358.2" fill="none" stroke="#62ad34" stroke-width="1.15" stroke-linejoin="round" stroke-linejoin="miter"/>
<rect x="72.6" y="474.4" width="3.6" height="3.4" fill="#4f9a2a"/>
<rect x="166" y="452.2" width="3.6" height="3.4" fill="#4f9a2a"/>
<line x1="56.7" y1="322.4" x2="56.7" y2="485.3" stroke="#1787d0" stroke-width="1"/>
<line x1="56.7" y1="485.3" x2="59.3" y2="485.3" stroke="#1787d0" stroke-width="0.8"/>
<line x1="56.7" y1="477.16" x2="58.1" y2="477.16" stroke="#1787d0" stroke-width="0.8"/>
<line x1="56.7" y1="469.01" x2="58.1" y2="469.01" stroke="#1787d0" stroke-width="0.8"/>
<line x1="56.7" y1="460.87" x2="58.1" y2="460.87" stroke="#1787d0" stroke-width="0.8"/>
<line x1="56.7" y1="452.72" x2="58.1" y2="452.72" stroke="#1787d0" stroke-width="0.8"/>
<line x1="56.7" y1="444.57" x2="59.3" y2="444.57" stroke="#1787d0" stroke-width="0.8"/>
<line x1="56.7" y1="436.43" x2="58.1" y2="436.43" stroke="#1787d0" stroke-width="0.8"/>
<line x1="56.7" y1="428.29" x2="58.1" y2="428.29" stroke="#1787d0" stroke-width="0.8"/>
<line x1="56.7" y1="420.14" x2="58.1" y2="420.14" stroke="#1787d0" stroke-width="0.8"/>
<line x1="56.7" y1="412" x2="58.1" y2="412" stroke="#1787d0" stroke-width="0.8"/>
<line x1="56.7" y1="403.85" x2="59.3" y2="403.85" stroke="#1787d0" stroke-width="0.8"/>
<line x1="56.7" y1="395.7" x2="58.1" y2="395.7" stroke="#1787d0" stroke-width="0.8"/>
<line x1="56.7" y1="387.56" x2="58.1" y2="387.56" stroke="#1787d0" stroke-width="0.8"/>
<line x1="56.7" y1="379.41" x2="58.1" y2="379.41" stroke="#1787d0" stroke-width="0.8"/>
<line x1="56.7" y1="371.27" x2="58.1" y2="371.27" stroke="#1787d0" stroke-width="0.8"/>
<line x1="56.7" y1="363.12" x2="59.3" y2="363.12" stroke="#1787d0" stroke-width="0.8"/>
<line x1="56.7" y1="354.98" x2="58.1" y2="354.98" stroke="#1787d0" stroke-width="0.8"/>
<line x1="56.7" y1="346.83" x2="58.1" y2="346.83" stroke="#1787d0" stroke-width="0.8"/>
<line x1="56.7" y1="338.69" x2="58.1" y2="338.69" stroke="#1787d0" stroke-width="0.8"/>
<line x1="56.7" y1="330.54" x2="58.1" y2="330.54" stroke="#1787d0" stroke-width="0.8"/>
<line x1="56.7" y1="322.4" x2="59.3" y2="322.4" stroke="#1787d0" stroke-width="0.8"/>
<text x="53.6" y="488.3" font-size="8.8" text-anchor="end" fill="#0b74c2" stroke="#0b74c2">&#8211;150</text>
<text x="53.6" y="447.57" font-size="8.8" text-anchor="end" fill="#0b74c2" stroke="#0b74c2">&#8211;100</text>
<text x="53.6" y="406.85" font-size="8.8" text-anchor="end" fill="#0b74c2" stroke="#0b74c2">&#8211;50</text>
<text x="53.6" y="366.12" font-size="8.8" text-anchor="end" fill="#0b74c2" stroke="#0b74c2">0</text>
<text x="53.6" y="325.4" font-size="8.8" text-anchor="end" fill="#0b74c2" stroke="#0b74c2">50</text>
<line x1="56.7" y1="485.3" x2="339.2" y2="485.3" stroke="#7d7d7d" stroke-width="1"/>
<line x1="56.7" y1="485.3" x2="56.7" y2="483.1" stroke="#7d7d7d" stroke-width="0.8"/>
<text x="56.7" y="496.4" font-size="8.8" text-anchor="middle" fill="#333" stroke="#333">0</text>
<line x1="96.53" y1="485.3" x2="96.53" y2="483.1" stroke="#7d7d7d" stroke-width="0.8"/>
<text x="96.53" y="496.4" font-size="8.8" text-anchor="middle" fill="#333" stroke="#333">2</text>
<line x1="136.37" y1="485.3" x2="136.37" y2="483.1" stroke="#7d7d7d" stroke-width="0.8"/>
<text x="136.37" y="496.4" font-size="8.8" text-anchor="middle" fill="#333" stroke="#333">4</text>
<line x1="176.2" y1="485.3" x2="176.2" y2="483.1" stroke="#7d7d7d" stroke-width="0.8"/>
<text x="176.2" y="496.4" font-size="8.8" text-anchor="middle" fill="#333" stroke="#333">6</text>
<line x1="216.03" y1="485.3" x2="216.03" y2="483.1" stroke="#7d7d7d" stroke-width="0.8"/>
<text x="216.03" y="496.4" font-size="8.8" text-anchor="middle" fill="#333" stroke="#333">8</text>
<line x1="255.87" y1="485.3" x2="255.87" y2="483.1" stroke="#7d7d7d" stroke-width="0.8"/>
<text x="255.87" y="496.4" font-size="8.8" text-anchor="middle" fill="#333" stroke="#333">10</text>
<line x1="295.7" y1="485.3" x2="295.7" y2="483.1" stroke="#7d7d7d" stroke-width="0.8"/>
<text x="295.7" y="496.4" font-size="8.8" text-anchor="middle" fill="#333" stroke="#333">12</text>
<text x="176" y="506.3" font-size="9.2" text-anchor="middle" font-weight="bold" fill="#222" stroke="#222">Time/h</text>
<line x1="295.7" y1="322.4" x2="295.7" y2="485.3" stroke="#fb8f6a" stroke-width="1"/>
<line x1="293.5" y1="485.3" x2="295.7" y2="485.3" stroke="#fb8f6a" stroke-width="0.8"/>
<text x="298.6" y="488.4" font-size="8.8" fill="#f05a2c" stroke="#f05a2c">2.6</text>
<line x1="293.5" y1="467.2" x2="295.7" y2="467.2" stroke="#fb8f6a" stroke-width="0.8"/>
<text x="298.6" y="470.3" font-size="8.8" fill="#f05a2c" stroke="#f05a2c">2.7</text>
<line x1="293.5" y1="449.1" x2="295.7" y2="449.1" stroke="#fb8f6a" stroke-width="0.8"/>
<text x="298.6" y="452.2" font-size="8.8" fill="#f05a2c" stroke="#f05a2c">2.8</text>
<line x1="293.5" y1="431" x2="295.7" y2="431" stroke="#fb8f6a" stroke-width="0.8"/>
<text x="298.6" y="434.1" font-size="8.8" fill="#f05a2c" stroke="#f05a2c">2.9</text>
<line x1="293.5" y1="412.9" x2="295.7" y2="412.9" stroke="#fb8f6a" stroke-width="0.8"/>
<text x="298.6" y="416" font-size="8.8" fill="#f05a2c" stroke="#f05a2c">3</text>
<line x1="293.5" y1="394.8" x2="295.7" y2="394.8" stroke="#fb8f6a" stroke-width="0.8"/>
<text x="298.6" y="397.9" font-size="8.8" fill="#f05a2c" stroke="#f05a2c">3.1</text>
<line x1="293.5" y1="376.7" x2="295.7" y2="376.7" stroke="#fb8f6a" stroke-width="0.8"/>
<text x="298.6" y="379.8" font-size="8.8" fill="#f05a2c" stroke="#f05a2c">3.2</text>
<line x1="293.5" y1="358.6" x2="295.7" y2="358.6" stroke="#fb8f6a" stroke-width="0.8"/>
<text x="298.6" y="361.7" font-size="8.8" fill="#f05a2c" stroke="#f05a2c">3.3</text>
<line x1="293.5" y1="340.5" x2="295.7" y2="340.5" stroke="#fb8f6a" stroke-width="0.8"/>
<text x="298.6" y="343.6" font-size="8.8" fill="#f05a2c" stroke="#f05a2c">3.4</text>
<line x1="293.5" y1="322.4" x2="295.7" y2="322.4" stroke="#fb8f6a" stroke-width="0.8"/>
<text x="298.6" y="325.5" font-size="8.8" fill="#f05a2c" stroke="#f05a2c">3.5</text>
<line x1="339.2" y1="322.4" x2="339.2" y2="485.3" stroke="#8dc26a" stroke-width="1"/>
<line x1="336.6" y1="485.3" x2="339.2" y2="485.3" stroke="#8dc26a" stroke-width="0.8"/>
<line x1="337.8" y1="478.78" x2="339.2" y2="478.78" stroke="#8dc26a" stroke-width="0.8"/>
<line x1="337.8" y1="472.27" x2="339.2" y2="472.27" stroke="#8dc26a" stroke-width="0.8"/>
<line x1="337.8" y1="465.75" x2="339.2" y2="465.75" stroke="#8dc26a" stroke-width="0.8"/>
<line x1="337.8" y1="459.24" x2="339.2" y2="459.24" stroke="#8dc26a" stroke-width="0.8"/>
<line x1="336.6" y1="452.72" x2="339.2" y2="452.72" stroke="#8dc26a" stroke-width="0.8"/>
<line x1="337.8" y1="446.2" x2="339.2" y2="446.2" stroke="#8dc26a" stroke-width="0.8"/>
<line x1="337.8" y1="439.69" x2="339.2" y2="439.69" stroke="#8dc26a" stroke-width="0.8"/>
<line x1="337.8" y1="433.17" x2="339.2" y2="433.17" stroke="#8dc26a" stroke-width="0.8"/>
<line x1="337.8" y1="426.66" x2="339.2" y2="426.66" stroke="#8dc26a" stroke-width="0.8"/>
<line x1="336.6" y1="420.14" x2="339.2" y2="420.14" stroke="#8dc26a" stroke-width="0.8"/>
<line x1="337.8" y1="413.62" x2="339.2" y2="413.62" stroke="#8dc26a" stroke-width="0.8"/>
<line x1="337.8" y1="407.11" x2="339.2" y2="407.11" stroke="#8dc26a" stroke-width="0.8"/>
<line x1="337.8" y1="400.59" x2="339.2" y2="400.59" stroke="#8dc26a" stroke-width="0.8"/>
<line x1="337.8" y1="394.08" x2="339.2" y2="394.08" stroke="#8dc26a" stroke-width="0.8"/>
<line x1="336.6" y1="387.56" x2="339.2" y2="387.56" stroke="#8dc26a" stroke-width="0.8"/>
<line x1="337.8" y1="381.04" x2="339.2" y2="381.04" stroke="#8dc26a" stroke-width="0.8"/>
<line x1="337.8" y1="374.53" x2="339.2" y2="374.53" stroke="#8dc26a" stroke-width="0.8"/>
<line x1="337.8" y1="368.01" x2="339.2" y2="368.01" stroke="#8dc26a" stroke-width="0.8"/>
<line x1="337.8" y1="361.5" x2="339.2" y2="361.5" stroke="#8dc26a" stroke-width="0.8"/>
<line x1="336.6" y1="354.98" x2="339.2" y2="354.98" stroke="#8dc26a" stroke-width="0.8"/>
<line x1="337.8" y1="348.46" x2="339.2" y2="348.46" stroke="#8dc26a" stroke-width="0.8"/>
<line x1="337.8" y1="341.95" x2="339.2" y2="341.95" stroke="#8dc26a" stroke-width="0.8"/>
<line x1="337.8" y1="335.43" x2="339.2" y2="335.43" stroke="#8dc26a" stroke-width="0.8"/>
<line x1="337.8" y1="328.92" x2="339.2" y2="328.92" stroke="#8dc26a" stroke-width="0.8"/>
<line x1="336.6" y1="322.4" x2="339.2" y2="322.4" stroke="#8dc26a" stroke-width="0.8"/>
<text x="341.8" y="488.4" font-size="9" fill="#5fa534" stroke="#5fa534">&#8211;20</text>
<text x="341.8" y="455.82" font-size="9" fill="#5fa534" stroke="#5fa534">&#8211;10</text>
<text x="341.8" y="423.24" font-size="9" fill="#5fa534" stroke="#5fa534">0</text>
<text x="341.8" y="390.66" font-size="9" fill="#5fa534" stroke="#5fa534">10</text>
<text x="341.8" y="358.08" font-size="9" fill="#5fa534" stroke="#5fa534">20</text>
<text x="341.8" y="325.5" font-size="9" fill="#5fa534" stroke="#5fa534">30</text>
<text transform="translate(34.3 402.3) rotate(-90)" font-size="9.2" text-anchor="middle" font-weight="bold" fill="#1b8bd2" stroke="#1b8bd2">Current/A</text>
<text transform="translate(319.4 402.5) rotate(-90)" font-size="9.2" font-weight="bold" text-anchor="middle" fill="#f35a28" stroke="#f35a28">Voltage<tspan font-size="6.6" dy="2.6">min</tspan><tspan dy="-2.6">/V</tspan></text>
<text transform="translate(362.7 403.5) rotate(-90)" font-size="9.2" font-weight="bold" text-anchor="middle" fill="#5aa830" stroke="#5aa830">T<tspan font-size="6.6" dy="2.6">ave</tspan><tspan dy="-2.6">/&#176;C</tspan></text>
</svg>
</body></html>
